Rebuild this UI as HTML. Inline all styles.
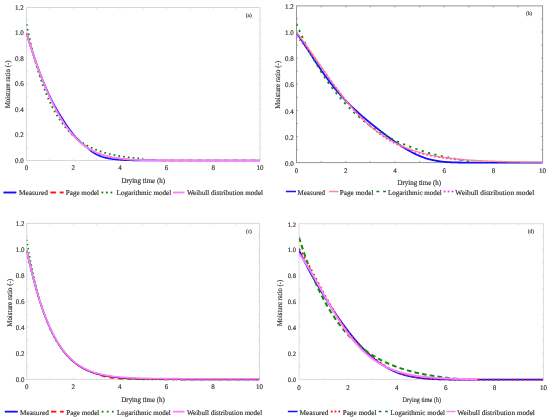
<!DOCTYPE html>
<html><head><meta charset="utf-8"><title>Drying curves</title>
<style>
html,body{margin:0;padding:0;background:#fff;}
body{width:550px;height:419px;overflow:hidden;}
svg{display:block;}
text{font-family:'Liberation Serif', serif;fill:#303030;stroke:#333;stroke-width:0.16px;text-rendering:geometricPrecision;}
.tk{font-size:7.0px;}
.ti{font-size:7.4px;}
.lg{font-size:7.15px;}
.pl{font-size:5.3px;}
</style></head>
<body>
<svg width="550" height="419" viewBox="0 0 550 419">
<rect width="550" height="419" fill="#fff"/>
<rect x="26.5" y="7.5" width="233.5" height="153" fill="none" stroke="#d9d9d9" stroke-width="1"/>
<path d="M49.85 160.5v-1.6M49.85 7.5v1.6M73.2 160.5v-1.6M73.2 7.5v1.6M96.55 160.5v-1.6M96.55 7.5v1.6M119.9 160.5v-1.6M119.9 7.5v1.6M143.25 160.5v-1.6M143.25 7.5v1.6M166.6 160.5v-1.6M166.6 7.5v1.6M189.95 160.5v-1.6M189.95 7.5v1.6M213.3 160.5v-1.6M213.3 7.5v1.6M236.65 160.5v-1.6M236.65 7.5v1.6M26.5 147.75h1.6M260 147.75h-1.6M26.5 135h1.6M260 135h-1.6M26.5 122.25h1.6M260 122.25h-1.6M26.5 109.5h1.6M260 109.5h-1.6M26.5 96.75h1.6M260 96.75h-1.6M26.5 84h1.6M260 84h-1.6M26.5 71.25h1.6M260 71.25h-1.6M26.5 58.5h1.6M260 58.5h-1.6M26.5 45.75h1.6M260 45.75h-1.6M26.5 33h1.6M260 33h-1.6M26.5 20.25h1.6M260 20.25h-1.6" stroke="#d9d9d9" stroke-width="0.8" fill="none"/>
<clipPath id="clipa"><rect x="26.5" y="-0.5" width="233.5" height="162.5"/></clipPath>
<g clip-path="url(#clipa)" fill="none" stroke-linecap="butt" stroke-linejoin="round">
<polyline points="26.5,33.48 27.28,35.97 28.06,38.45 28.84,40.9 29.61,43.33 30.39,45.73 31.17,48.11 31.95,50.47 32.73,52.8 33.51,55.11 34.28,57.39 35.06,59.64 35.84,61.86 36.62,64.06 37.4,66.22 38.17,68.36 38.95,70.46 39.73,72.54 40.51,74.58 41.29,76.59 42.07,78.57 42.84,80.51 43.62,82.42 44.4,84.29 45.18,86.13 45.96,87.93 46.74,89.7 47.52,91.44 48.29,93.14 49.07,94.8 49.85,96.43 50.63,98.02 51.41,99.59 52.19,101.12 52.96,102.62 53.74,104.09 54.52,105.53 55.3,106.95 56.08,108.34 56.86,109.71 57.63,111.05 58.41,112.37 59.19,113.68 59.97,114.96 60.75,116.23 61.53,117.48 62.3,118.72 63.08,119.94 63.86,121.14 64.64,122.33 65.42,123.51 66.19,124.66 66.97,125.81 67.75,126.93 68.53,128.03 69.31,129.12 70.09,130.19 70.87,131.23 71.64,132.25 72.42,133.25 73.2,134.22 73.98,135.17 74.76,136.09 75.53,136.99 76.31,137.86 77.09,138.7 77.87,139.52 78.65,140.31 79.43,141.07 80.2,141.81 80.98,142.53 81.76,143.21 82.54,143.88 83.32,144.52 84.1,145.14 84.88,145.73 85.65,146.31 86.43,146.86 87.21,147.4 87.99,148.2 88.77,148.96 89.55,149.67 90.32,150.34 91.1,150.98 91.88,151.57 92.66,152.13 93.44,152.65 94.22,153.15 94.99,153.61 95.77,154.05 96.55,154.46 97.33,154.85 98.11,155.21 98.89,155.55 99.66,155.87 100.44,156.17 101.22,156.45 102,156.72 102.78,156.96 103.56,157.2 104.33,157.42 105.11,157.62 105.89,157.81 106.67,157.99 107.45,158.16 108.23,158.32 109,158.47 109.78,158.61 110.56,158.73 111.34,158.86 112.12,158.97 112.89,159.07 113.67,159.17 114.45,159.27 115.23,159.35 116.01,159.43 116.79,159.51 117.56,159.58 118.34,159.64 119.12,159.7 119.9,159.76 120.68,159.81 121.46,159.86 122.23,159.91 123.01,159.95 123.79,159.99 124.57,160.03 125.35,160.06 126.13,160.1 126.91,160.13 127.68,160.15 128.46,160.18 129.24,160.2 130.02,160.23 130.8,160.25 131.57,160.27 132.35,160.28 133.13,160.3 133.91,160.32 134.69,160.33 135.47,160.34 136.25,160.35 137.02,160.37 137.8,160.38 138.58,160.39 139.36,160.39 140.14,160.4 140.92,160.41 141.69,160.42 142.47,160.42 143.25,160.43 144.03,160.44 144.81,160.44 145.58,160.45 146.36,160.45 147.14,160.45 147.92,160.46 148.7,160.46 149.48,160.46 150.25,160.47 151.03,160.47 151.81,160.47 152.59,160.47 153.37,160.48 154.15,160.48 154.93,160.48 155.7,160.48 156.48,160.48 157.26,160.49 158.04,160.49 158.82,160.49 159.59,160.49 160.37,160.49 161.15,160.49 161.93,160.49 162.71,160.49 163.49,160.49 164.27,160.49 165.04,160.49 165.82,160.49 166.6,160.5 167.38,160.5 168.16,160.5 168.94,160.5 169.71,160.5 170.49,160.5 171.27,160.5 172.05,160.5 172.83,160.5 173.61,160.5 174.38,160.5 175.16,160.5 175.94,160.5 176.72,160.5 177.5,160.5 178.28,160.5 179.05,160.5 179.83,160.5 180.61,160.5 181.39,160.5 182.17,160.5 182.95,160.5 183.72,160.5 184.5,160.5 185.28,160.5 186.06,160.5 186.84,160.5 187.62,160.5 188.39,160.5 189.17,160.5 189.95,160.5 190.73,160.5 191.51,160.5 192.28,160.5 193.06,160.5 193.84,160.5 194.62,160.5 195.4,160.5 196.18,160.5 196.96,160.5 197.73,160.5 198.51,160.5 199.29,160.5 200.07,160.5 200.85,160.5 201.62,160.5 202.4,160.5 203.18,160.5 203.96,160.5 204.74,160.5 205.52,160.5 206.3,160.5 207.07,160.5 207.85,160.5 208.63,160.5 209.41,160.5 210.19,160.5 210.97,160.5 211.74,160.5 212.52,160.5 213.3,160.5 214.08,160.5 214.86,160.5 215.63,160.5 216.41,160.5 217.19,160.5 217.97,160.5 218.75,160.5 219.53,160.5 220.31,160.5 221.08,160.5 221.86,160.5 222.64,160.5 223.42,160.5 224.2,160.5 224.98,160.5 225.75,160.5 226.53,160.5 227.31,160.5 228.09,160.5 228.87,160.5 229.64,160.5 230.42,160.5 231.2,160.5 231.98,160.5 232.76,160.5 233.54,160.5 234.32,160.5 235.09,160.5 235.87,160.5 236.65,160.5 237.43,160.5 238.21,160.5 238.99,160.5 239.76,160.5 240.54,160.5 241.32,160.5 242.1,160.5 242.88,160.5 243.66,160.5 244.43,160.5 245.21,160.5 245.99,160.5 246.77,160.5 247.55,160.5 248.33,160.5 249.1,160.5 249.88,160.5 250.66,160.5 251.44,160.5 252.22,160.5 253,160.5 253.77,160.5 254.55,160.5 255.33,160.5 256.11,160.5 256.89,160.5 257.67,160.5 258.44,160.5 259.22,160.5 260,160.5" stroke="#1010ff" stroke-width="1.7"/>
<polyline points="26.5,33.48 27.28,35.98 28.06,38.45 28.84,40.9 29.61,43.33 30.39,45.74 31.17,48.13 31.95,50.49 32.73,52.82 33.51,55.13 34.28,57.42 35.06,59.68 35.84,61.91 36.62,64.11 37.4,66.29 38.17,68.44 38.95,70.57 39.73,72.66 40.51,74.73 41.29,76.77 42.07,78.78 42.84,80.76 43.62,82.71 44.4,84.63 45.18,86.52 45.96,88.38 46.74,90.22 47.52,92.02 48.29,93.79 49.07,95.53 49.85,97.24 50.63,98.93 51.41,100.58 52.19,102.2 52.96,103.79 53.74,105.36 54.52,106.89 55.3,108.39 56.08,109.86 56.86,111.31 57.63,112.72 58.41,114.11 59.19,115.47 59.97,116.79 60.75,118.09 61.53,119.36 62.3,120.61 63.08,121.82 63.86,123.01 64.64,124.17 65.42,125.3 66.19,126.41 66.97,127.49 67.75,128.55 68.53,129.58 69.31,130.58 70.09,131.56 70.87,132.51 71.64,133.44 72.42,134.34 73.2,135.23 73.98,136.08 74.76,136.92 75.53,137.73 76.31,138.52 77.09,139.29 77.87,140.04 78.65,140.76 79.43,141.47 80.2,142.15 80.98,142.82 81.76,143.46 82.54,144.09 83.32,144.7 84.1,145.29 84.88,145.86 85.65,146.41 86.43,146.95 87.21,147.46 87.99,147.97 88.77,148.45 89.55,148.92 90.32,149.38 91.1,149.82 91.88,150.25 92.66,150.66 93.44,151.05 94.22,151.44 94.99,151.81 95.77,152.17 96.55,152.51 97.33,152.85 98.11,153.17 98.89,153.48 99.66,153.77 100.44,154.06 101.22,154.34 102,154.61 102.78,154.86 103.56,155.11 104.33,155.35 105.11,155.58 105.89,155.8 106.67,156.01 107.45,156.21 108.23,156.41 109,156.59 109.78,156.77 110.56,156.95 111.34,157.11 112.12,157.27 112.89,157.42 113.67,157.57 114.45,157.71 115.23,157.84 116.01,157.97 116.79,158.09 117.56,158.21 118.34,158.32 119.12,158.43 119.9,158.53 120.68,158.63 121.46,158.72 122.23,158.81 123.01,158.9 123.79,158.98 124.57,159.06 125.35,159.13 126.13,159.2 126.91,159.27 127.68,159.33 128.46,159.4 129.24,159.45 130.02,159.51 130.8,159.56 131.57,159.61 132.35,159.66 133.13,159.71 133.91,159.75 134.69,159.79 135.47,159.83 136.25,159.87 137.02,159.9 137.8,159.94 138.58,159.97 139.36,160 140.14,160.03 140.92,160.05 141.69,160.08 142.47,160.1 143.25,160.13 144.03,160.15 144.81,160.17 145.58,160.19 146.36,160.21 147.14,160.22 147.92,160.24 148.7,160.26 149.48,160.27 150.25,160.29 151.03,160.3 151.81,160.31 152.59,160.32 153.37,160.33 154.15,160.34 154.93,160.35 155.7,160.36 156.48,160.37 157.26,160.38 158.04,160.39 158.82,160.39 159.59,160.4 160.37,160.41 161.15,160.41 161.93,160.42 162.71,160.42 163.49,160.43 164.27,160.43 165.04,160.44 165.82,160.44 166.6,160.45 167.38,160.45 168.16,160.45 168.94,160.46 169.71,160.46 170.49,160.46 171.27,160.46 172.05,160.47 172.83,160.47 173.61,160.47 174.38,160.47 175.16,160.48 175.94,160.48 176.72,160.48 177.5,160.48 178.28,160.48 179.05,160.48 179.83,160.48 180.61,160.49 181.39,160.49 182.17,160.49 182.95,160.49 183.72,160.49 184.5,160.49 185.28,160.49 186.06,160.49 186.84,160.49 187.62,160.49 188.39,160.49 189.17,160.49 189.95,160.49 190.73,160.49 191.51,160.5 192.28,160.5 193.06,160.5 193.84,160.5 194.62,160.5 195.4,160.5 196.18,160.5 196.96,160.5 197.73,160.5 198.51,160.5 199.29,160.5 200.07,160.5 200.85,160.5 201.62,160.5 202.4,160.5 203.18,160.5 203.96,160.5 204.74,160.5 205.52,160.5 206.3,160.5 207.07,160.5 207.85,160.5 208.63,160.5 209.41,160.5 210.19,160.5 210.97,160.5 211.74,160.5 212.52,160.5 213.3,160.5 214.08,160.5 214.86,160.5 215.63,160.5 216.41,160.5 217.19,160.5 217.97,160.5 218.75,160.5 219.53,160.5 220.31,160.5 221.08,160.5 221.86,160.5 222.64,160.5 223.42,160.5 224.2,160.5 224.98,160.5 225.75,160.5 226.53,160.5 227.31,160.5 228.09,160.5 228.87,160.5 229.64,160.5 230.42,160.5 231.2,160.5 231.98,160.5 232.76,160.5 233.54,160.5 234.32,160.5 235.09,160.5 235.87,160.5 236.65,160.5 237.43,160.5 238.21,160.5 238.99,160.5 239.76,160.5 240.54,160.5 241.32,160.5 242.1,160.5 242.88,160.5 243.66,160.5 244.43,160.5 245.21,160.5 245.99,160.5 246.77,160.5 247.55,160.5 248.33,160.5 249.1,160.5 249.88,160.5 250.66,160.5 251.44,160.5 252.22,160.5 253,160.5 253.77,160.5 254.55,160.5 255.33,160.5 256.11,160.5 256.89,160.5 257.67,160.5 258.44,160.5 259.22,160.5 260,160.5" stroke="#ff1010" stroke-width="1.5" stroke-dasharray="5 4"/>
<polyline points="26.5,24.17 27.28,27.96 28.06,31.65 28.84,35.24 29.61,38.72 30.39,42.11 31.17,45.41 31.95,48.61 32.73,51.72 33.51,54.75 34.28,57.69 35.06,60.56 35.84,63.34 36.62,66.04 37.4,68.67 38.17,71.23 38.95,73.72 39.73,76.13 40.51,78.48 41.29,80.77 42.07,82.99 42.84,85.15 43.62,87.24 44.4,89.29 45.18,91.27 45.96,93.2 46.74,95.07 47.52,96.9 48.29,98.67 49.07,100.39 49.85,102.07 50.63,103.7 51.41,105.28 52.19,106.82 52.96,108.32 53.74,109.77 54.52,111.19 55.3,112.56 56.08,113.9 56.86,115.2 57.63,116.46 58.41,117.69 59.19,118.89 59.97,120.05 60.75,121.18 61.53,122.28 62.3,123.34 63.08,124.38 63.86,125.39 64.64,126.37 65.42,127.32 66.19,128.25 66.97,129.15 67.75,130.03 68.53,130.88 69.31,131.71 70.09,132.52 70.87,133.3 71.64,134.06 72.42,134.8 73.2,135.52 73.98,136.22 74.76,136.9 75.53,137.56 76.31,138.2 77.09,138.83 77.87,139.43 78.65,140.03 79.43,140.6 80.2,141.16 80.98,141.7 81.76,142.23 82.54,142.74 83.32,143.24 84.1,143.73 84.88,144.2 85.65,144.66 86.43,145.1 87.21,145.53 87.99,145.96 88.77,146.37 89.55,146.76 90.32,147.15 91.1,147.53 91.88,147.89 92.66,148.25 93.44,148.59 94.22,148.93 94.99,149.26 95.77,149.58 96.55,149.88 97.33,150.18 98.11,150.48 98.89,150.76 99.66,151.04 100.44,151.3 101.22,151.57 102,151.82 102.78,152.07 103.56,152.31 104.33,152.54 105.11,152.77 105.89,152.99 106.67,153.2 107.45,153.41 108.23,153.61 109,153.81 109.78,154 110.56,154.19 111.34,154.37 112.12,154.54 112.89,154.71 113.67,154.88 114.45,155.04 115.23,155.2 116.01,155.35 116.79,155.5 117.56,155.64 118.34,155.78 119.12,155.92 119.9,156.05 120.68,156.18 121.46,156.31 122.23,156.43 123.01,156.55 123.79,156.66 124.57,156.78 125.35,156.88 126.13,156.99 126.91,157.09 127.68,157.19 128.46,157.29 129.24,157.38 130.02,157.48 130.8,157.57 131.57,157.65 132.35,157.74 133.13,157.82 133.91,157.9 134.69,157.98 135.47,158.05 136.25,158.13 137.02,158.2 137.8,158.27 138.58,158.33 139.36,158.4 140.14,158.46 140.92,158.53 141.69,158.59 142.47,158.65 143.25,158.7" stroke="#0a8a0a" stroke-width="1.8" stroke-dasharray="1.7 3.1"/>
<polyline points="26.5,33.48 27.28,35.98 28.06,38.45 28.84,40.9 29.61,43.33 30.39,45.74 31.17,48.13 31.95,50.49 32.73,52.82 33.51,55.13 34.28,57.42 35.06,59.68 35.84,61.91 36.62,64.11 37.4,66.29 38.17,68.44 38.95,70.57 39.73,72.66 40.51,74.73 41.29,76.77 42.07,78.78 42.84,80.76 43.62,82.71 44.4,84.63 45.18,86.52 45.96,88.38 46.74,90.22 47.52,92.02 48.29,93.79 49.07,95.53 49.85,97.24 50.63,98.93 51.41,100.58 52.19,102.2 52.96,103.79 53.74,105.36 54.52,106.89 55.3,108.39 56.08,109.86 56.86,111.31 57.63,112.72 58.41,114.11 59.19,115.47 59.97,116.79 60.75,118.09 61.53,119.36 62.3,120.61 63.08,121.82 63.86,123.01 64.64,124.17 65.42,125.3 66.19,126.41 66.97,127.49 67.75,128.55 68.53,129.58 69.31,130.58 70.09,131.56 70.87,132.51 71.64,133.44 72.42,134.34 73.2,135.23 73.98,136.08 74.76,136.92 75.53,137.73 76.31,138.52 77.09,139.29 77.87,140.04 78.65,140.76 79.43,141.47 80.2,142.15 80.98,142.82 81.76,143.46 82.54,144.09 83.32,144.7 84.1,145.29 84.88,145.86 85.65,146.41 86.43,146.95 87.21,147.46 87.99,147.97 88.77,148.45 89.55,148.92 90.32,149.38 91.1,149.82 91.88,150.25 92.66,150.66 93.44,151.05 94.22,151.44 94.99,151.81 95.77,152.17 96.55,152.51 97.33,152.85 98.11,153.17 98.89,153.48 99.66,153.77 100.44,154.06 101.22,154.34 102,154.61 102.78,154.86 103.56,155.11 104.33,155.35 105.11,155.58 105.89,155.8 106.67,156.01 107.45,156.21 108.23,156.41 109,156.59 109.78,156.77 110.56,156.95 111.34,157.11 112.12,157.27 112.89,157.42 113.67,157.57 114.45,157.71 115.23,157.84 116.01,157.97 116.79,158.09 117.56,158.21 118.34,158.32 119.12,158.43 119.9,158.53 120.68,158.63 121.46,158.72 122.23,158.81 123.01,158.9 123.79,158.98 124.57,159.06 125.35,159.13 126.13,159.2 126.91,159.27 127.68,159.33 128.46,159.4 129.24,159.45 130.02,159.51 130.8,159.56 131.57,159.61 132.35,159.66 133.13,159.71 133.91,159.75 134.69,159.79 135.47,159.83 136.25,159.87 137.02,159.9 137.8,159.94 138.58,159.97 139.36,160 140.14,160.03 140.92,160.05 141.69,160.08 142.47,160.1 143.25,160.13 144.03,160.15 144.81,160.17 145.58,160.19 146.36,160.21 147.14,160.22 147.92,160.24 148.7,160.26 149.48,160.27 150.25,160.29 151.03,160.3 151.81,160.31 152.59,160.32 153.37,160.33 154.15,160.34 154.93,160.35 155.7,160.36 156.48,160.37 157.26,160.38 158.04,160.39 158.82,160.39 159.59,160.4 160.37,160.41 161.15,160.41 161.93,160.42 162.71,160.42 163.49,160.43 164.27,160.43 165.04,160.44 165.82,160.44 166.6,160.45 167.38,160.45 168.16,160.45 168.94,160.46 169.71,160.46 170.49,160.46 171.27,160.46 172.05,160.47 172.83,160.47 173.61,160.47 174.38,160.47 175.16,160.48 175.94,160.48 176.72,160.48 177.5,160.48 178.28,160.48 179.05,160.48 179.83,160.48 180.61,160.49 181.39,160.49 182.17,160.49 182.95,160.49 183.72,160.49 184.5,160.49 185.28,160.49 186.06,160.49 186.84,160.49 187.62,160.49 188.39,160.49 189.17,160.49 189.95,160.49 190.73,160.49 191.51,160.5 192.28,160.5 193.06,160.5 193.84,160.5 194.62,160.5 195.4,160.5 196.18,160.5 196.96,160.5 197.73,160.5 198.51,160.5 199.29,160.5 200.07,160.5 200.85,160.5 201.62,160.5 202.4,160.5 203.18,160.5 203.96,160.5 204.74,160.5 205.52,160.5 206.3,160.5 207.07,160.5 207.85,160.5 208.63,160.5 209.41,160.5 210.19,160.5 210.97,160.5 211.74,160.5 212.52,160.5 213.3,160.5 214.08,160.5 214.86,160.5 215.63,160.5 216.41,160.5 217.19,160.5 217.97,160.5 218.75,160.5 219.53,160.5 220.31,160.5 221.08,160.5 221.86,160.5 222.64,160.5 223.42,160.5 224.2,160.5 224.98,160.5 225.75,160.5 226.53,160.5 227.31,160.5 228.09,160.5 228.87,160.5 229.64,160.5 230.42,160.5 231.2,160.5 231.98,160.5 232.76,160.5 233.54,160.5 234.32,160.5 235.09,160.5 235.87,160.5 236.65,160.5 237.43,160.5 238.21,160.5 238.99,160.5 239.76,160.5 240.54,160.5 241.32,160.5 242.1,160.5 242.88,160.5 243.66,160.5 244.43,160.5 245.21,160.5 245.99,160.5 246.77,160.5 247.55,160.5 248.33,160.5 249.1,160.5 249.88,160.5 250.66,160.5 251.44,160.5 252.22,160.5 253,160.5 253.77,160.5 254.55,160.5 255.33,160.5 256.11,160.5 256.89,160.5 257.67,160.5 258.44,160.5 259.22,160.5 260,160.5" stroke="#ff80ff" stroke-width="1.75"/>
</g>
<text x="23.8" y="162.8" text-anchor="end" class="tk">0.0</text>
<text x="23.8" y="137.3" text-anchor="end" class="tk">0.2</text>
<text x="23.8" y="111.8" text-anchor="end" class="tk">0.4</text>
<text x="23.8" y="86.3" text-anchor="end" class="tk">0.6</text>
<text x="23.8" y="60.8" text-anchor="end" class="tk">0.8</text>
<text x="23.8" y="35.3" text-anchor="end" class="tk">1.0</text>
<text x="23.8" y="9.8" text-anchor="end" class="tk">1.2</text>
<text x="26.5" y="170.1" text-anchor="middle" class="tk">0</text>
<text x="73.2" y="170.1" text-anchor="middle" class="tk">2</text>
<text x="119.9" y="170.1" text-anchor="middle" class="tk">4</text>
<text x="166.6" y="170.1" text-anchor="middle" class="tk">6</text>
<text x="213.3" y="170.1" text-anchor="middle" class="tk">8</text>
<text x="260" y="170.1" text-anchor="middle" class="tk">10</text>
<text transform="translate(7.8 84.4) rotate(-90)" text-anchor="middle" class="ti" y="2.3" textLength="47.8" lengthAdjust="spacingAndGlyphs">Moisture ratio (-)</text>
<text x="143.2" y="182.9" text-anchor="middle" class="ti" style="font-size:7.4px" textLength="43.6" lengthAdjust="spacingAndGlyphs">Drying time (h)</text>
<text x="248.8" y="16.7" text-anchor="middle" class="pl">(a)</text>
<line x1="3.4" y1="192.5" x2="16.4" y2="192.5" stroke="#1010ff" stroke-width="1.9"/>
<text x="18.9" y="195.2" class="lg" textLength="29" lengthAdjust="spacingAndGlyphs">Measured</text>
<line x1="50.4" y1="192.5" x2="55.94" y2="192.5" stroke="#ff1010" stroke-width="1.9"/>
<line x1="59.72" y1="192.5" x2="63.6" y2="192.5" stroke="#ff1010" stroke-width="1.9"/>
<text x="65.8" y="195.2" class="lg" textLength="33.3" lengthAdjust="spacingAndGlyphs">Page model</text>
<rect x="101.5" y="191.6" width="1.8" height="1.8" fill="#0a8a0a"/>
<rect x="106" y="191.6" width="1.8" height="1.8" fill="#0a8a0a"/>
<rect x="110.5" y="191.6" width="1.8" height="1.8" fill="#0a8a0a"/>
<text x="116.6" y="195.2" class="lg" textLength="54.6" lengthAdjust="spacingAndGlyphs">Logarithmic model</text>
<line x1="173" y1="192.5" x2="184.5" y2="192.5" stroke="#ff80ff" stroke-width="1.9"/>
<text x="187" y="195.2" class="lg" textLength="76" lengthAdjust="spacingAndGlyphs">Weibull distribution model</text>
<rect x="296.5" y="5.9" width="246.1" height="156.7" fill="none" stroke="#959595" stroke-width="1"/>
<path d="M321.11 162.6v-1.6M321.11 5.9v1.6M345.72 162.6v-1.6M345.72 5.9v1.6M370.33 162.6v-1.6M370.33 5.9v1.6M394.94 162.6v-1.6M394.94 5.9v1.6M419.55 162.6v-1.6M419.55 5.9v1.6M444.16 162.6v-1.6M444.16 5.9v1.6M468.77 162.6v-1.6M468.77 5.9v1.6M493.38 162.6v-1.6M493.38 5.9v1.6M517.99 162.6v-1.6M517.99 5.9v1.6M296.5 149.54h1.6M542.6 149.54h-1.6M296.5 136.48h1.6M542.6 136.48h-1.6M296.5 123.42h1.6M542.6 123.42h-1.6M296.5 110.37h1.6M542.6 110.37h-1.6M296.5 97.31h1.6M542.6 97.31h-1.6M296.5 84.25h1.6M542.6 84.25h-1.6M296.5 71.19h1.6M542.6 71.19h-1.6M296.5 58.13h1.6M542.6 58.13h-1.6M296.5 45.07h1.6M542.6 45.07h-1.6M296.5 32.02h1.6M542.6 32.02h-1.6M296.5 18.96h1.6M542.6 18.96h-1.6" stroke="#959595" stroke-width="0.8" fill="none"/>
<clipPath id="clipb"><rect x="296.5" y="-2.1" width="246.1" height="166.2"/></clipPath>
<g clip-path="url(#clipb)" fill="none" stroke-linecap="butt" stroke-linejoin="round">
<polyline points="296.5,32.9 297.32,34.02 298.14,35.17 298.96,36.33 299.78,37.52 300.6,38.72 301.42,39.93 302.24,41.16 303.06,42.4 303.88,43.64 304.7,44.9 305.52,46.16 306.34,47.43 307.16,48.71 307.98,49.98 308.81,51.26 309.63,52.54 310.45,53.82 311.27,55.09 312.09,56.37 312.91,57.64 313.73,58.9 314.55,60.16 315.37,61.42 316.19,62.66 317.01,63.9 317.83,65.14 318.65,66.36 319.47,67.58 320.29,68.79 321.11,69.98 321.93,71.17 322.75,72.35 323.57,73.51 324.39,74.67 325.21,75.81 326.03,76.94 326.85,78.06 327.67,79.17 328.49,80.27 329.31,81.36 330.13,82.43 330.95,83.49 331.77,84.54 332.59,85.58 333.42,86.6 334.24,87.62 335.06,88.62 335.88,89.61 336.7,90.59 337.52,91.56 338.34,92.51 339.16,93.46 339.98,94.39 340.8,95.31 341.62,96.22 342.44,97.12 343.26,98.01 344.08,98.89 344.9,99.76 345.72,100.62 346.54,101.48 347.36,102.32 348.18,103.15 349,103.97 349.82,104.79 350.64,105.59 351.46,106.39 352.28,107.18 353.1,107.96 353.92,108.74 354.74,109.51 355.56,110.27 356.38,111.02 357.2,111.77 358.02,112.51 358.85,113.24 359.67,113.97 360.49,114.69 361.31,115.41 362.13,116.12 362.95,116.83 363.77,117.53 364.59,118.23 365.41,118.92 366.23,119.61 367.05,120.29 367.87,120.97 368.69,121.65 369.51,122.32 370.33,122.99 371.15,123.66 371.97,124.32 372.79,124.98 373.61,125.63 374.43,126.29 375.25,126.94 376.07,127.58 376.89,128.23 377.71,128.87 378.53,129.51 379.35,130.15 380.17,130.78 380.99,131.41 381.81,132.04 382.63,132.66 383.46,133.29 384.28,133.91 385.1,134.53 385.92,135.14 386.74,135.75 387.56,136.36 388.38,136.97 389.2,137.57 390.02,138.17 390.84,138.77 391.66,139.36 392.48,139.95 393.3,140.53 394.12,141.11 394.94,141.69 395.76,142.26 396.58,142.83 397.4,143.39 398.22,143.95 399.04,144.5 399.86,145.05 400.68,145.59 401.5,146.13 402.32,146.65 403.14,147.18 403.96,147.69 404.78,148.2 405.6,148.7 406.42,149.2 407.25,149.68 408.07,150.16 408.89,150.63 409.71,151.09 410.53,151.55 411.35,151.99 412.17,152.43 412.99,152.85 413.81,153.27 414.63,153.68 415.45,154.07 416.27,154.46 417.09,154.84 417.91,155.21 418.73,155.57 419.55,155.91 420.37,156.25 421.19,156.58 422.01,156.89 422.83,157.2 423.65,157.49 424.47,157.78 425.29,158.05 426.11,158.32 426.93,158.57 427.75,158.81 428.57,159.05 429.39,159.27 430.21,159.48 431.03,159.69 431.86,159.88 432.68,160.07 433.5,160.24 434.32,160.41 435.14,160.57 435.96,160.71 436.78,160.86 437.6,160.99 438.42,161.11 439.24,161.23 440.06,161.34 440.88,161.44 441.7,161.54 442.52,161.63 443.34,161.72 444.16,161.79 444.98,161.87 445.8,161.93 446.62,162 447.44,162.05 448.26,162.11 449.08,162.15 449.9,162.2 450.72,162.24 451.54,162.28 452.36,162.31 453.18,162.34 454,162.37 454.82,162.4 455.64,162.42 456.47,162.44 457.29,162.46 458.11,162.48 458.93,162.49 459.75,162.5 460.57,162.52 461.39,162.53 462.21,162.54 463.03,162.54 463.85,162.55 464.67,162.56 465.49,162.56 466.31,162.57 467.13,162.57 467.95,162.58 468.77,162.58 469.59,162.58 470.41,162.59 471.23,162.59 472.05,162.59 472.87,162.59 473.69,162.59 474.51,162.59 475.33,162.6 476.15,162.6 476.97,162.6 477.79,162.6 478.61,162.6 479.43,162.6 480.25,162.6 481.08,162.6 481.9,162.6 482.72,162.6 483.54,162.6 484.36,162.6 485.18,162.6 486,162.6 486.82,162.6 487.64,162.6 488.46,162.6 489.28,162.6 490.1,162.6 490.92,162.6 491.74,162.6 492.56,162.6 493.38,162.6 494.2,162.6 495.02,162.6 495.84,162.6 496.66,162.6 497.48,162.6 498.3,162.6 499.12,162.6 499.94,162.6 500.76,162.6 501.58,162.6 502.4,162.6 503.22,162.6 504.04,162.6 504.86,162.6 505.69,162.6 506.51,162.6 507.33,162.6 508.15,162.6 508.97,162.6 509.79,162.6 510.61,162.6 511.43,162.6 512.25,162.6 513.07,162.6 513.89,162.6 514.71,162.6 515.53,162.6 516.35,162.6 517.17,162.6 517.99,162.6 518.81,162.6 519.63,162.6 520.45,162.6 521.27,162.6 522.09,162.6 522.91,162.6 523.73,162.6 524.55,162.6 525.37,162.6 526.19,162.6 527.01,162.6 527.83,162.6 528.65,162.6 529.47,162.6 530.3,162.6 531.12,162.6 531.94,162.6 532.76,162.6 533.58,162.6 534.4,162.6 535.22,162.6 536.04,162.6 536.86,162.6 537.68,162.6 538.5,162.6 539.32,162.6 540.14,162.6 540.96,162.6 541.78,162.6 542.6,162.6" stroke="#1010ff" stroke-width="1.8"/>
<polyline points="296.5,23.85 297.32,25.77 298.14,27.68 298.96,29.55 299.78,31.41 300.6,33.23 301.42,35.04 302.24,36.82 303.06,38.57 303.88,40.31 304.7,42.02 305.52,43.7 306.34,45.37 307.16,47.01 307.98,48.64 308.81,50.24 309.63,51.82 310.45,53.37 311.27,54.91 312.09,56.43 312.91,57.93 313.73,59.41 314.55,60.87 315.37,62.3 316.19,63.72 317.01,65.13 317.83,66.51 318.65,67.87 319.47,69.22 320.29,70.55 321.11,71.86 321.93,73.16 322.75,74.43 323.57,75.69 324.39,76.94 325.21,78.17 326.03,79.38 326.85,80.57 327.67,81.75 328.49,82.92 329.31,84.06 330.13,85.2 330.95,86.32 331.77,87.42 332.59,88.51 333.42,89.58 334.24,90.65 335.06,91.69 335.88,92.72 336.7,93.74 337.52,94.75 338.34,95.74 339.16,96.72 339.98,97.69 340.8,98.64 341.62,99.58 342.44,100.51 343.26,101.43 344.08,102.33 344.9,103.23 345.72,104.11 346.54,104.98 347.36,105.83 348.18,106.68 349,107.52 349.82,108.34 350.64,109.15 351.46,109.96 352.28,110.75 353.1,111.53 353.92,112.3 354.74,113.06 355.56,113.81 356.38,114.56 357.2,115.29 358.02,116.01 358.85,116.72 359.67,117.42 360.49,118.12 361.31,118.8 362.13,119.48 362.95,120.14 363.77,120.8 364.59,121.45 365.41,122.09 366.23,122.72 367.05,123.35 367.87,123.96 368.69,124.57 369.51,125.17 370.33,125.76 371.15,126.34 371.97,126.92 372.79,127.49 373.61,128.05 374.43,128.6 375.25,129.15 376.07,129.69 376.89,130.22 377.71,130.75 378.53,131.26 379.35,131.78 380.17,132.28 380.99,132.78 381.81,133.27 382.63,133.75 383.46,134.23 384.28,134.7 385.1,135.17 385.92,135.63 386.74,136.08 387.56,136.53 388.38,136.97 389.2,137.41 390.02,137.84 390.84,138.26 391.66,138.68 392.48,139.1 393.3,139.5 394.12,139.91 394.94,140.3 395.76,140.69 396.58,141.08 397.4,141.46 398.22,141.84 399.04,142.21 399.86,142.58 400.68,142.94 401.5,143.3 402.32,143.65 403.14,144 403.96,144.34 404.78,144.68 405.6,145.01 406.42,145.34 407.25,145.67 408.07,145.99 408.89,146.31 409.71,146.62 410.53,146.93 411.35,147.23 412.17,147.53 412.99,147.83 413.81,148.12 414.63,148.41 415.45,148.7 416.27,148.98 417.09,149.26 417.91,149.53 418.73,149.8 419.55,150.07 420.37,150.33 421.19,150.59 422.01,150.85 422.83,151.1 423.65,151.35 424.47,151.6 425.29,151.84 426.11,152.08 426.93,152.32 427.75,152.55 428.57,152.78 429.39,153.01 430.21,153.23 431.03,153.45 431.86,153.67 432.68,153.89 433.5,154.1 434.32,154.31 435.14,154.52 435.96,154.72 436.78,154.92 437.6,155.12 438.42,155.32 439.24,155.51 440.06,155.71 440.88,155.89 441.7,156.08 442.52,156.27 443.34,156.45 444.16,156.63 444.98,156.8 445.8,156.98 446.62,157.15 447.44,157.32 448.26,157.49 449.08,157.65 449.9,157.82 450.72,157.98 451.54,158.14 452.36,158.29 453.18,158.45 454,158.6 454.82,158.75 455.64,158.9 456.47,159.05 457.29,159.19 458.11,159.33 458.93,159.48 459.75,159.61 460.57,159.75 461.39,159.89 462.21,160.02 463.03,160.15 463.85,160.28 464.67,160.41 465.49,160.54 466.31,160.66 467.13,160.79 467.95,160.91 468.77,161.03 469.59,161.15 470.41,161.27 471.23,161.38 472.05,161.5 472.87,161.61 473.69,161.72" stroke="#0a8a0a" stroke-width="1.8" stroke-dasharray="2.2 4.4"/>
<polyline points="296.5,32.24 297.32,33.27 298.14,34.31 298.96,35.37 299.78,36.44 300.6,37.52 301.42,38.61 302.24,39.71 303.06,40.82 303.88,41.94 304.7,43.07 305.52,44.21 306.34,45.35 307.16,46.51 307.98,47.66 308.81,48.83 309.63,50 310.45,51.17 311.27,52.35 312.09,53.53 312.91,54.72 313.73,55.91 314.55,57.1 315.37,58.3 316.19,59.49 317.01,60.69 317.83,61.88 318.65,63.08 319.47,64.28 320.29,65.48 321.11,66.67 321.93,67.86 322.75,69.06 323.57,70.25 324.39,71.43 325.21,72.62 326.03,73.8 326.85,74.97 327.67,76.15 328.49,77.32 329.31,78.48 330.13,79.64 330.95,80.79 331.77,81.94 332.59,83.08 333.42,84.22 334.24,85.34 335.06,86.47 335.88,87.58 336.7,88.69 337.52,89.79 338.34,90.88 339.16,91.97 339.98,93.04 340.8,94.11 341.62,95.17 342.44,96.22 343.26,97.27 344.08,98.3 344.9,99.33 345.72,100.34 346.54,101.35 347.36,102.34 348.18,103.33 349,104.31 349.82,105.27 350.64,106.23 351.46,107.18 352.28,108.11 353.1,109.04 353.92,109.96 354.74,110.86 355.56,111.76 356.38,112.64 357.2,113.52 358.02,114.38 358.85,115.24 359.67,116.08 360.49,116.91 361.31,117.73 362.13,118.55 362.95,119.35 363.77,120.14 364.59,120.92 365.41,121.68 366.23,122.44 367.05,123.19 367.87,123.93 368.69,124.65 369.51,125.37 370.33,126.08 371.15,126.77 371.97,127.46 372.79,128.13 373.61,128.8 374.43,129.45 375.25,130.1 376.07,130.73 376.89,131.36 377.71,131.97 378.53,132.58 379.35,133.17 380.17,133.76 380.99,134.34 381.81,134.9 382.63,135.46 383.46,136.01 384.28,136.55 385.1,137.08 385.92,137.6 386.74,138.11 387.56,138.61 388.38,139.11 389.2,139.59 390.02,140.07 390.84,140.54 391.66,141 392.48,141.45 393.3,141.89 394.12,142.33 394.94,142.75 395.76,143.17 396.58,143.58 397.4,143.99 398.22,144.39 399.04,144.77 399.86,145.16 400.68,145.53 401.5,145.9 402.32,146.26 403.14,146.61 403.96,146.96 404.78,147.3 405.6,147.63 406.42,147.95 407.25,148.27 408.07,148.59 408.89,148.89 409.71,149.2 410.53,149.49 411.35,149.78 412.17,150.06 412.99,150.34 413.81,150.61 414.63,150.88 415.45,151.14 416.27,151.39 417.09,151.64 417.91,151.89 418.73,152.13 419.55,152.36 420.37,152.59 421.19,152.82 422.01,153.04 422.83,153.25 423.65,153.46 424.47,153.67 425.29,153.87 426.11,154.07 426.93,154.26 427.75,154.45 428.57,154.63 429.39,154.81 430.21,154.99 431.03,155.16 431.86,155.33 432.68,155.5 433.5,155.66 434.32,155.82 435.14,155.97 435.96,156.12 436.78,156.27 437.6,156.42 438.42,156.56 439.24,156.7 440.06,156.83 440.88,156.96 441.7,157.09 442.52,157.22 443.34,157.34 444.16,157.46 444.98,157.58 445.8,157.69 446.62,157.81 447.44,157.92 448.26,158.02 449.08,158.13 449.9,158.23 450.72,158.33 451.54,158.43 452.36,158.52 453.18,158.62 454,158.71 454.82,158.8 455.64,158.88 456.47,158.97 457.29,159.05 458.11,159.13 458.93,159.21 459.75,159.29 460.57,159.36 461.39,159.44 462.21,159.51 463.03,159.58 463.85,159.65 464.67,159.72 465.49,159.78 466.31,159.85 467.13,159.91 467.95,159.97 468.77,160.03 469.59,160.09 470.41,160.14 471.23,160.2 472.05,160.25 472.87,160.31 473.69,160.36 474.51,160.41 475.33,160.46 476.15,160.5 476.97,160.55 477.79,160.6 478.61,160.64 479.43,160.68 480.25,160.73 481.08,160.77 481.9,160.81 482.72,160.85 483.54,160.89 484.36,160.92 485.18,160.96 486,161 486.82,161.03 487.64,161.07 488.46,161.1 489.28,161.13 490.1,161.16 490.92,161.2 491.74,161.23 492.56,161.26 493.38,161.28 494.2,161.31 495.02,161.34 495.84,161.37 496.66,161.39 497.48,161.42 498.3,161.44 499.12,161.47 499.94,161.49 500.76,161.52 501.58,161.54 502.4,161.56 503.22,161.58 504.04,161.6 504.86,161.62 505.69,161.64 506.51,161.66 507.33,161.68 508.15,161.7 508.97,161.72 509.79,161.74 510.61,161.76 511.43,161.77 512.25,161.79 513.07,161.81 513.89,161.82 514.71,161.84 515.53,161.85 516.35,161.87 517.17,161.88 517.99,161.9 518.81,161.91 519.63,161.92 520.45,161.94 521.27,161.95 522.09,161.96 522.91,161.97 523.73,161.99 524.55,162 525.37,162.01 526.19,162.02 527.01,162.03 527.83,162.04 528.65,162.05 529.47,162.06 530.3,162.07 531.12,162.08 531.94,162.09 532.76,162.1 533.58,162.11 534.4,162.12 535.22,162.13 536.04,162.13 536.86,162.14 537.68,162.15 538.5,162.16 539.32,162.17 540.14,162.17 540.96,162.18 541.78,162.19 542.6,162.2" stroke="#ff8c8c" stroke-width="1.4"/>
<polyline points="296.5,36.89 297.32,37.72 298.14,38.56 298.96,39.43 299.78,40.31 300.6,41.21 301.42,42.12 302.24,43.05 303.06,43.99 303.88,44.95 304.7,45.92 305.52,46.9 306.34,47.9 307.16,48.91 307.98,49.93 308.81,50.96 309.63,52 310.45,53.05 311.27,54.1 312.09,55.17 312.91,56.25 313.73,57.33 314.55,58.42 315.37,59.51 316.19,60.61 317.01,61.72 317.83,62.83 318.65,63.95 319.47,65.06 320.29,66.19 321.11,67.31 321.93,68.44 322.75,69.57 323.57,70.7 324.39,71.83 325.21,72.96 326.03,74.09 326.85,75.22 327.67,76.35 328.49,77.47 329.31,78.6 330.13,79.72 330.95,80.84 331.77,81.96 332.59,83.08 333.42,84.19 334.24,85.3 335.06,86.4 335.88,87.5 336.7,88.59 337.52,89.68 338.34,90.76 339.16,91.83 339.98,92.9 340.8,93.97 341.62,95.02 342.44,96.07 343.26,97.12 344.08,98.15 344.9,99.18 345.72,100.2 346.54,101.21 347.36,102.21 348.18,103.21 349,104.19 349.82,105.17 350.64,106.14 351.46,107.09 352.28,108.04 353.1,108.98 353.92,109.91 354.74,110.83 355.56,111.75 356.38,112.65 357.2,113.54 358.02,114.42 358.85,115.29 359.67,116.15 360.49,117 361.31,117.84 362.13,118.67 362.95,119.49 363.77,120.3 364.59,121.1 365.41,121.89 366.23,122.66 367.05,123.43 367.87,124.19 368.69,124.93 369.51,125.67 370.33,126.39 371.15,127.11 371.97,127.81 372.79,128.51 373.61,129.19 374.43,129.86 375.25,130.53 376.07,131.18 376.89,131.82 377.71,132.45 378.53,133.08 379.35,133.69 380.17,134.29 380.99,134.88 381.81,135.46 382.63,136.04 383.46,136.6 384.28,137.15 385.1,137.7 385.92,138.23 386.74,138.76 387.56,139.27 388.38,139.78 389.2,140.28 390.02,140.77 390.84,141.25 391.66,141.72 392.48,142.18 393.3,142.63 394.12,143.08 394.94,143.51 395.76,143.94 396.58,144.36 397.4,144.77 398.22,145.18 399.04,145.57 399.86,145.96 400.68,146.34 401.5,146.72 402.32,147.08 403.14,147.44 403.96,147.79 404.78,148.14 405.6,148.47 406.42,148.8 407.25,149.13 408.07,149.44 408.89,149.75 409.71,150.06 410.53,150.35 411.35,150.64 412.17,150.93 412.99,151.21 413.81,151.48 414.63,151.74 415.45,152.01 416.27,152.26 417.09,152.51 417.91,152.75 418.73,152.99 419.55,153.23 420.37,153.45 421.19,153.68 422.01,153.89 422.83,154.11 423.65,154.32 424.47,154.52 425.29,154.72 426.11,154.91 426.93,155.1 427.75,155.29 428.57,155.47 429.39,155.64 430.21,155.82 431.03,155.99 431.86,156.15 432.68,156.31 433.5,156.47 434.32,156.62 435.14,156.77 435.96,156.92 436.78,157.06 437.6,157.2 438.42,157.34 439.24,157.47 440.06,157.6 440.88,157.72 441.7,157.85 442.52,157.97 443.34,158.09 444.16,158.2 444.98,158.31 445.8,158.42 446.62,158.53 447.44,158.63 448.26,158.73 449.08,158.83 449.9,158.93 450.72,159.02 451.54,159.11 452.36,159.2 453.18,159.29 454,159.37 454.82,159.45 455.64,159.54 456.47,159.61 457.29,159.69 458.11,159.76 458.93,159.84 459.75,159.91 460.57,159.98 461.39,160.04 462.21,160.11 463.03,160.17 463.85,160.24" stroke="#ff30ff" stroke-width="1.5" stroke-dasharray="1.3 2.7"/>
</g>
<text x="293.8" y="165.8" text-anchor="end" class="tk">0.0</text>
<text x="293.8" y="139.68" text-anchor="end" class="tk">0.2</text>
<text x="293.8" y="113.57" text-anchor="end" class="tk">0.4</text>
<text x="293.8" y="87.45" text-anchor="end" class="tk">0.6</text>
<text x="293.8" y="61.33" text-anchor="end" class="tk">0.8</text>
<text x="293.8" y="35.22" text-anchor="end" class="tk">1.0</text>
<text x="293.8" y="9.1" text-anchor="end" class="tk">1.2</text>
<text x="296.5" y="172.5" text-anchor="middle" class="tk">0</text>
<text x="345.72" y="172.5" text-anchor="middle" class="tk">2</text>
<text x="394.94" y="172.5" text-anchor="middle" class="tk">4</text>
<text x="444.16" y="172.5" text-anchor="middle" class="tk">6</text>
<text x="493.38" y="172.5" text-anchor="middle" class="tk">8</text>
<text x="542.6" y="172.5" text-anchor="middle" class="tk">10</text>
<text transform="translate(277.5 84.9) rotate(-90)" text-anchor="middle" class="ti" y="2.3" textLength="47.8" lengthAdjust="spacingAndGlyphs">Moisture ratio (-)</text>
<text x="419.3" y="184.9" text-anchor="middle" class="ti" style="font-size:7.4px" textLength="43.6" lengthAdjust="spacingAndGlyphs">Drying time (h)</text>
<text x="529" y="15.3" text-anchor="middle" class="pl">(b)</text>
<line x1="285.9" y1="191.5" x2="296" y2="191.5" stroke="#1010ff" stroke-width="1.5"/>
<text x="297.5" y="194.8" class="lg" textLength="27.6" lengthAdjust="spacingAndGlyphs">Measured</text>
<line x1="329" y1="191.5" x2="338.2" y2="191.5" stroke="#ff8c8c" stroke-width="1.5"/>
<text x="339.8" y="194.8" class="lg" textLength="33.6" lengthAdjust="spacingAndGlyphs">Page model</text>
<line x1="376.4" y1="191.5" x2="379.28" y2="191.5" stroke="#0a8a0a" stroke-width="1.5"/>
<line x1="383.12" y1="191.5" x2="386" y2="191.5" stroke="#0a8a0a" stroke-width="1.5"/>
<text x="388" y="194.8" class="lg" textLength="53.7" lengthAdjust="spacingAndGlyphs">Logarithmic model</text>
<rect x="443.7" y="190.6" width="1.8" height="1.8" fill="#ff30ff"/>
<rect x="447.65" y="190.6" width="1.8" height="1.8" fill="#ff30ff"/>
<rect x="451.6" y="190.6" width="1.8" height="1.8" fill="#ff30ff"/>
<text x="455.3" y="194.8" class="lg" textLength="79.1" lengthAdjust="spacingAndGlyphs">Weibull distribution model</text>
<rect x="26.7" y="223.4" width="232.8" height="156" fill="none" stroke="#d9d9d9" stroke-width="1"/>
<path d="M49.98 379.4v-1.6M49.98 223.4v1.6M73.26 379.4v-1.6M73.26 223.4v1.6M96.54 379.4v-1.6M96.54 223.4v1.6M119.82 379.4v-1.6M119.82 223.4v1.6M143.1 379.4v-1.6M143.1 223.4v1.6M166.38 379.4v-1.6M166.38 223.4v1.6M189.66 379.4v-1.6M189.66 223.4v1.6M212.94 379.4v-1.6M212.94 223.4v1.6M236.22 379.4v-1.6M236.22 223.4v1.6M26.7 366.4h1.6M259.5 366.4h-1.6M26.7 353.4h1.6M259.5 353.4h-1.6M26.7 340.4h1.6M259.5 340.4h-1.6M26.7 327.4h1.6M259.5 327.4h-1.6M26.7 314.4h1.6M259.5 314.4h-1.6M26.7 301.4h1.6M259.5 301.4h-1.6M26.7 288.4h1.6M259.5 288.4h-1.6M26.7 275.4h1.6M259.5 275.4h-1.6M26.7 262.4h1.6M259.5 262.4h-1.6M26.7 249.4h1.6M259.5 249.4h-1.6M26.7 236.4h1.6M259.5 236.4h-1.6" stroke="#d9d9d9" stroke-width="0.8" fill="none"/>
<clipPath id="clipc"><rect x="26.7" y="215.4" width="232.8" height="165.5"/></clipPath>
<g clip-path="url(#clipc)" fill="none" stroke-linecap="butt" stroke-linejoin="round">
<polyline points="26.7,250.51 27.48,254.07 28.25,257.55 29.03,260.96 29.8,264.3 30.58,267.56 31.36,270.75 32.13,273.87 32.91,276.92 33.68,279.9 34.46,282.81 35.24,285.65 36.01,288.42 36.79,291.13 37.56,293.77 38.34,296.35 39.12,298.87 39.89,301.32 40.67,303.71 41.44,306.03 42.22,308.3 43,310.51 43.77,312.66 44.55,314.76 45.32,316.8 46.1,318.78 46.88,320.72 47.65,322.59 48.43,324.42 49.2,326.2 49.98,327.92 50.76,329.6 51.53,331.23 52.31,332.82 53.08,334.36 53.86,335.85 54.64,337.3 55.41,338.71 56.19,340.08 56.96,341.4 57.74,342.69 58.52,343.94 59.29,345.15 60.07,346.32 60.84,347.46 61.62,348.56 62.4,349.63 63.17,350.66 63.95,351.66 64.72,352.63 65.5,353.57 66.28,354.48 67.05,355.36 67.83,356.22 68.6,357.04 69.38,357.84 70.16,358.61 70.93,359.36 71.71,360.08 72.48,360.78 73.26,361.45 74.04,362.1 74.81,362.73 75.59,363.34 76.36,363.93 77.14,364.5 77.92,365.05 78.69,365.58 79.47,366.09 80.24,366.59 81.02,367.06 81.8,367.52 82.57,367.97 83.35,368.4 84.12,368.81 84.9,369.21 85.68,369.59 86.45,369.96 87.23,370.32 88,370.67 88.78,371 89.56,371.32 90.33,371.63 91.11,371.92 91.88,372.21 92.66,372.49 93.44,372.75 94.21,373.01 94.99,373.26 95.76,373.49 96.54,373.72 97.32,373.94 98.09,374.16 98.87,374.36 99.64,374.56 100.42,374.75 101.2,374.93 101.97,375.1 102.75,375.27 103.52,375.43 104.3,375.59 105.08,375.74 105.85,375.88 106.63,376.02 107.4,376.16 108.18,376.29 108.96,376.41 109.73,376.53 110.51,376.64 111.28,376.75 112.06,376.86 112.84,376.96 113.61,377.05 114.39,377.15 115.16,377.24 115.94,377.32 116.72,377.41 117.49,377.49 118.27,377.56 119.04,377.64 119.82,377.71 120.6,377.78 121.37,377.84 122.15,377.9 122.92,377.96 123.7,378.02 124.48,378.08 125.25,378.13 126.03,378.18 126.8,378.23 127.58,378.28 128.36,378.32 129.13,378.37 129.91,378.41 130.68,378.45 131.46,378.49 132.24,378.52 133.01,378.56 133.79,378.59 134.56,378.62 135.34,378.66 136.12,378.69 136.89,378.71 137.67,378.74 138.44,378.77 139.22,378.79 140,378.82 140.77,378.84 141.55,378.86 142.32,378.89 143.1,378.91 143.88,378.93 144.65,378.94 145.43,378.96 146.2,378.98 146.98,379 147.76,379.01 148.53,379.03 149.31,379.04 150.08,379.06 150.86,379.07 151.64,379.08 152.41,379.1 153.19,379.11 153.96,379.12 154.74,379.13 155.52,379.14 156.29,379.15 157.07,379.16 157.84,379.17 158.62,379.18 159.4,379.19 160.17,379.2 160.95,379.21 161.72,379.21 162.5,379.22 163.28,379.23 164.05,379.23 164.83,379.24 165.6,379.25 166.38,379.25 167.16,379.26 167.93,379.26 168.71,379.27 169.48,379.27 170.26,379.28 171.04,379.28 171.81,379.29 172.59,379.29 173.36,379.3 174.14,379.3 174.92,379.3 175.69,379.31 176.47,379.31 177.24,379.32 178.02,379.32 178.8,379.32 179.57,379.32 180.35,379.33 181.12,379.33 181.9,379.33 182.68,379.34 183.45,379.34 184.23,379.34 185,379.34 185.78,379.34 186.56,379.35 187.33,379.35 188.11,379.35 188.88,379.35 189.66,379.35 190.44,379.36 191.21,379.36 191.99,379.36 192.76,379.36 193.54,379.36 194.32,379.36 195.09,379.36 195.87,379.37 196.64,379.37 197.42,379.37 198.2,379.37 198.97,379.37 199.75,379.37 200.52,379.37 201.3,379.37 202.08,379.37 202.85,379.38 203.63,379.38 204.4,379.38 205.18,379.38 205.96,379.38 206.73,379.38 207.51,379.38 208.28,379.38 209.06,379.38 209.84,379.38 210.61,379.38 211.39,379.38 212.16,379.38 212.94,379.38 213.72,379.38 214.49,379.39 215.27,379.39 216.04,379.39 216.82,379.39 217.6,379.39 218.37,379.39 219.15,379.39 219.92,379.39 220.7,379.39 221.48,379.39 222.25,379.39 223.03,379.39 223.8,379.39 224.58,379.39 225.36,379.39 226.13,379.39 226.91,379.39 227.68,379.39 228.46,379.39 229.24,379.39 230.01,379.39 230.79,379.39 231.56,379.39 232.34,379.39 233.12,379.39 233.89,379.39 234.67,379.39 235.44,379.39 236.22,379.39 237,379.39 237.77,379.39 238.55,379.39 239.32,379.39 240.1,379.39 240.88,379.39 241.65,379.39 242.43,379.39 243.2,379.4 243.98,379.4 244.76,379.4 245.53,379.4 246.31,379.4 247.08,379.4 247.86,379.4 248.64,379.4 249.41,379.4 250.19,379.4 250.96,379.4 251.74,379.4 252.52,379.4 253.29,379.4 254.07,379.4 254.84,379.4 255.62,379.4 256.4,379.4 257.17,379.4 257.95,379.4 258.72,379.4 259.5,379.4" stroke="#1010ff" stroke-width="1.6"/>
<polyline points="26.7,250.51 27.48,254.07 28.25,257.55 29.03,260.96 29.8,264.3 30.58,267.56 31.36,270.75 32.13,273.87 32.91,276.92 33.68,279.9 34.46,282.81 35.24,285.65 36.01,288.42 36.79,291.13 37.56,293.77 38.34,296.35 39.12,298.87 39.89,301.32 40.67,303.71 41.44,306.03 42.22,308.3 43,310.51 43.77,312.66 44.55,314.76 45.32,316.8 46.1,318.78 46.88,320.72 47.65,322.59 48.43,324.42 49.2,326.2 49.98,327.92 50.76,329.6 51.53,331.23 52.31,332.82 53.08,334.36 53.86,335.85 54.64,337.3 55.41,338.71 56.19,340.08 56.96,341.4 57.74,342.69 58.52,343.94 59.29,345.15 60.07,346.32 60.84,347.46 61.62,348.56 62.4,349.63 63.17,350.66 63.95,351.66 64.72,352.63 65.5,353.57 66.28,354.48 67.05,355.36 67.83,356.22 68.6,357.04 69.38,357.84 70.16,358.61 70.93,359.36 71.71,360.08 72.48,360.78 73.26,361.45 74.04,362.1 74.81,362.73 75.59,363.34 76.36,363.93 77.14,364.5 77.92,365.05 78.69,365.58 79.47,366.09 80.24,366.59 81.02,367.06 81.8,367.52 82.57,367.97 83.35,368.4 84.12,368.81 84.9,369.21 85.68,369.59 86.45,369.96 87.23,370.32 88,370.67 88.78,371 89.56,371.32 90.33,371.63 91.11,371.92 91.88,372.21 92.66,372.49 93.44,372.75 94.21,373.01 94.99,373.26 95.76,373.49 96.54,373.72 97.32,374.09 98.09,374.43 98.87,374.75 99.64,375.05 100.42,375.33 101.2,375.59 101.97,375.84 102.75,376.07 103.52,376.28 104.3,376.48 105.08,376.67 105.85,376.85 106.63,377.01 107.4,377.17 108.18,377.31 108.96,377.45 109.73,377.57 110.51,377.69 111.28,377.8 112.06,377.91 112.84,378 113.61,378.1 114.39,378.18 115.16,378.26 115.94,378.33 116.72,378.4 117.49,378.47 118.27,378.53 119.04,378.59 119.82,378.64 120.6,378.69 121.37,378.74 122.15,378.78 122.92,378.82 123.7,378.86 124.48,378.89 125.25,378.93 126.03,378.96 126.8,378.99 127.58,379.01 128.36,379.04 129.13,379.06 129.91,379.08 130.68,379.11 131.46,379.12 132.24,379.14 133.01,379.16 133.79,379.18 134.56,379.19 135.34,379.2 136.12,379.22 136.89,379.23 137.67,379.24 138.44,379.25 139.22,379.26 140,379.27 140.77,379.28 141.55,379.29 142.32,379.29 143.1,379.3 143.88,379.31 144.65,379.31 145.43,379.32 146.2,379.32 146.98,379.33 147.76,379.33 148.53,379.34 149.31,379.34 150.08,379.35 150.86,379.35 151.64,379.35 152.41,379.36 153.19,379.36 153.96,379.36 154.74,379.36 155.52,379.37 156.29,379.37 157.07,379.37 157.84,379.37 158.62,379.37 159.4,379.38 160.17,379.38 160.95,379.38 161.72,379.38 162.5,379.38 163.28,379.38 164.05,379.38 164.83,379.38 165.6,379.39 166.38,379.39 167.16,379.39 167.93,379.39 168.71,379.39 169.48,379.39 170.26,379.39 171.04,379.39 171.81,379.39 172.59,379.39 173.36,379.39 174.14,379.39 174.92,379.39 175.69,379.39 176.47,379.39 177.24,379.39 178.02,379.4 178.8,379.4 179.57,379.4 180.35,379.4 181.12,379.4 181.9,379.4 182.68,379.4 183.45,379.4 184.23,379.4 185,379.4 185.78,379.4 186.56,379.4 187.33,379.4 188.11,379.4 188.88,379.4 189.66,379.4 190.44,379.4 191.21,379.4 191.99,379.4 192.76,379.4 193.54,379.4 194.32,379.4 195.09,379.4 195.87,379.4 196.64,379.4 197.42,379.4 198.2,379.4 198.97,379.4 199.75,379.4 200.52,379.4 201.3,379.4 202.08,379.4 202.85,379.4 203.63,379.4 204.4,379.4 205.18,379.4 205.96,379.4 206.73,379.4 207.51,379.4 208.28,379.4 209.06,379.4 209.84,379.4 210.61,379.4 211.39,379.4 212.16,379.4 212.94,379.4 213.72,379.4 214.49,379.4 215.27,379.4 216.04,379.4 216.82,379.4 217.6,379.4 218.37,379.4 219.15,379.4 219.92,379.4 220.7,379.4 221.48,379.4 222.25,379.4 223.03,379.4 223.8,379.4 224.58,379.4 225.36,379.4 226.13,379.4 226.91,379.4 227.68,379.4 228.46,379.4 229.24,379.4 230.01,379.4 230.79,379.4 231.56,379.4 232.34,379.4 233.12,379.4 233.89,379.4 234.67,379.4 235.44,379.4 236.22,379.4 237,379.4 237.77,379.4 238.55,379.4 239.32,379.4 240.1,379.4 240.88,379.4 241.65,379.4 242.43,379.4 243.2,379.4 243.98,379.4 244.76,379.4 245.53,379.4 246.31,379.4 247.08,379.4 247.86,379.4 248.64,379.4 249.41,379.4 250.19,379.4 250.96,379.4 251.74,379.4 252.52,379.4 253.29,379.4 254.07,379.4 254.84,379.4 255.62,379.4 256.4,379.4 257.17,379.4 257.95,379.4 258.72,379.4 259.5,379.4" stroke="#ff1010" stroke-width="1.5" stroke-dasharray="5 4"/>
<polyline points="26.7,239.62 27.48,244.22 28.25,248.67 29.03,252.97 29.8,257.14 30.58,261.16 31.36,265.06 32.13,268.83 32.91,272.47 33.68,276 34.46,279.41 35.24,282.71 36.01,285.9 36.79,288.99 37.56,291.97 38.34,294.86 39.12,297.66 39.89,300.36 40.67,302.97 41.44,305.5 42.22,307.95 43,310.32 43.77,312.61 44.55,314.82 45.32,316.97 46.1,319.04 46.88,321.04 47.65,322.98 48.43,324.86 49.2,326.67 49.98,328.43 50.76,330.13 51.53,331.77 52.31,333.36 53.08,334.9 53.86,336.39 54.64,337.82 55.41,339.22 56.19,340.56 56.96,341.86 57.74,343.12 58.52,344.34 59.29,345.52 60.07,346.66 60.84,347.76 61.62,348.83 62.4,349.86 63.17,350.86 63.95,351.83 64.72,352.76 65.5,353.67 66.28,354.54 67.05,355.39 67.83,356.2 68.6,357 69.38,357.76 70.16,358.5 70.93,359.22 71.71,359.91 72.48,360.58 73.26,361.23 74.04,361.86 74.81,362.46 75.59,363.05 76.36,363.62 77.14,364.17 77.92,364.7 78.69,365.21 79.47,365.71 80.24,366.19 81.02,366.66 81.8,367.11 82.57,367.54 83.35,367.96 84.12,368.37 84.9,368.76 85.68,369.15 86.45,369.51 87.23,369.87 88,370.22 88.78,370.55 89.56,370.87 90.33,371.19 91.11,371.49 91.88,371.78 92.66,372.06 93.44,372.34 94.21,372.6 94.99,372.86 95.76,373.1 96.54,373.34 97.32,373.58 98.09,373.8 98.87,374.02 99.64,374.23 100.42,374.43 101.2,374.62 101.97,374.81 102.75,375 103.52,375.18 104.3,375.35 105.08,375.51 105.85,375.67 106.63,375.83 107.4,375.98 108.18,376.13 108.96,376.27 109.73,376.4 110.51,376.54 111.28,376.66 112.06,376.79 112.84,376.91 113.61,377.02 114.39,377.13 115.16,377.24 115.94,377.34 116.72,377.45 117.49,377.54 118.27,377.64 119.04,377.73 119.82,377.82 120.6,377.9 121.37,377.99 122.15,378.07 122.92,378.14 123.7,378.22 124.48,378.29 125.25,378.36 126.03,378.43 126.8,378.49 127.58,378.56 128.36,378.62 129.13,378.68 129.91,378.74 130.68,378.79 131.46,378.85 132.24,378.9 133.01,378.95 133.79,379 134.56,379.04 135.34,379.09 136.12,379.13 136.89,379.18 137.67,379.22 138.44,379.26 139.22,379.3 140,379.33 140.77,379.37 141.55,379.4 142.32,379.4 143.1,379.4 143.88,379.4 144.65,379.4 145.43,379.4 146.2,379.4 146.98,379.4 147.76,379.4 148.53,379.4 149.31,379.4 150.08,379.4 150.86,379.4 151.64,379.4 152.41,379.4 153.19,379.4 153.96,379.4 154.74,379.4 155.52,379.4 156.29,379.4 157.07,379.4 157.84,379.4 158.62,379.4 159.4,379.4 160.17,379.4 160.95,379.4 161.72,379.4 162.5,379.4 163.28,379.4 164.05,379.4 164.83,379.4 165.6,379.4 166.38,379.4 167.16,379.4 167.93,379.4 168.71,379.4 169.48,379.4 170.26,379.4 171.04,379.4 171.81,379.4 172.59,379.4 173.36,379.4 174.14,379.4 174.92,379.4 175.69,379.4 176.47,379.4 177.24,379.4 178.02,379.4 178.8,379.4 179.57,379.4 180.35,379.4 181.12,379.4 181.9,379.4 182.68,379.4 183.45,379.4 184.23,379.4 185,379.4 185.78,379.4 186.56,379.4 187.33,379.4 188.11,379.4 188.88,379.4 189.66,379.4 190.44,379.4 191.21,379.4 191.99,379.4 192.76,379.4 193.54,379.4 194.32,379.4 195.09,379.4 195.87,379.4 196.64,379.4 197.42,379.4 198.2,379.4 198.97,379.4 199.75,379.4 200.52,379.4 201.3,379.4 202.08,379.4 202.85,379.4 203.63,379.4 204.4,379.4 205.18,379.4 205.96,379.4 206.73,379.4 207.51,379.4 208.28,379.4 209.06,379.4 209.84,379.4 210.61,379.4 211.39,379.4 212.16,379.4 212.94,379.4 213.72,379.4 214.49,379.4 215.27,379.4 216.04,379.4 216.82,379.4 217.6,379.4 218.37,379.4 219.15,379.4 219.92,379.4 220.7,379.4 221.48,379.4 222.25,379.4 223.03,379.4 223.8,379.4 224.58,379.4 225.36,379.4 226.13,379.4 226.91,379.4 227.68,379.4 228.46,379.4 229.24,379.4 230.01,379.4 230.79,379.4 231.56,379.4 232.34,379.4 233.12,379.4 233.89,379.4 234.67,379.4 235.44,379.4 236.22,379.4 237,379.4 237.77,379.4 238.55,379.4 239.32,379.4 240.1,379.4 240.88,379.4 241.65,379.4 242.43,379.4 243.2,379.4 243.98,379.4 244.76,379.4 245.53,379.4 246.31,379.4 247.08,379.4 247.86,379.4 248.64,379.4 249.41,379.4 250.19,379.4 250.96,379.4 251.74,379.4 252.52,379.4 253.29,379.4 254.07,379.4 254.84,379.4 255.62,379.4 256.4,379.4 257.17,379.4 257.95,379.4 258.72,379.4 259.5,379.4" stroke="#0a8a0a" stroke-width="1.5" stroke-dasharray="1.4 2.8"/>
<polyline points="26.7,250.5 27.48,254.04 28.25,257.51 29.03,260.9 29.8,264.22 30.58,267.47 31.36,270.64 32.13,273.75 32.91,276.78 33.68,279.75 34.46,282.64 35.24,285.47 36.01,288.23 36.79,290.92 37.56,293.55 38.34,296.12 39.12,298.62 39.89,301.06 40.67,303.43 41.44,305.75 42.22,308.01 43,310.21 43.77,312.35 44.55,314.43 45.32,316.46 46.1,318.44 46.88,320.36 47.65,322.23 48.43,324.05 49.2,325.81 49.98,327.53 50.76,329.2 51.53,330.82 52.31,332.4 53.08,333.93 53.86,335.42 54.64,336.86 55.41,338.26 56.19,339.62 56.96,340.94 57.74,342.22 58.52,343.46 59.29,344.67 60.07,345.83 60.84,346.97 61.62,348.06 62.4,349.13 63.17,350.15 63.95,351.15 64.72,352.12 65.5,353.05 66.28,353.96 67.05,354.83 67.83,355.68 68.6,356.5 69.38,357.3 70.16,358.07 70.93,358.81 71.71,359.53 72.48,360.22 73.26,360.89 74.04,361.54 74.81,362.17 75.59,362.77 76.36,363.36 77.14,363.93 77.92,364.47 78.69,365 79.47,365.51 80.24,366 81.02,366.47 81.8,366.93 82.57,367.37 83.35,367.8 84.12,368.21 84.9,368.61 85.68,368.99 86.45,369.36 87.23,369.72 88,370.06 88.78,370.39 89.56,370.71 90.33,371.02 91.11,371.31 91.88,371.6 92.66,371.87 93.44,372.14 94.21,372.39 94.99,372.64 95.76,372.87 96.54,373.1 97.32,373.32 98.09,373.53 98.87,373.74 99.64,373.93 100.42,374.12 101.2,374.3 101.97,374.47 102.75,374.64 103.52,374.8 104.3,374.96 105.08,375.11 105.85,375.25 106.63,375.39 107.4,375.52 108.18,375.65 108.96,375.77 109.73,375.89 110.51,376 111.28,376.11 112.06,376.22 112.84,376.32 113.61,376.42 114.39,376.51 115.16,376.6 115.94,376.68 116.72,376.77 117.49,376.85 118.27,376.92 119.04,377 119.82,377.07 120.6,377.13 121.37,377.2 122.15,377.26 122.92,377.32 123.7,377.38 124.48,377.43 125.25,377.49 126.03,377.54 126.8,377.59 127.58,377.63 128.36,377.68 129.13,377.72 129.91,377.76 130.68,377.8 131.46,377.84 132.24,377.88 133.01,377.91 133.79,377.95 134.56,377.98 135.34,378.01 136.12,378.04 136.89,378.07 137.67,378.09 138.44,378.12 139.22,378.15 140,378.17 140.77,378.19 141.55,378.22 142.32,378.24 143.1,378.26 143.88,378.28 144.65,378.3 145.43,378.32 146.2,378.33 146.98,378.35 147.76,378.37 148.53,378.38 149.31,378.4 150.08,378.41 150.86,378.42 151.64,378.44 152.41,378.45 153.19,378.46 153.96,378.47 154.74,378.48 155.52,378.49 156.29,378.5 157.07,378.51 157.84,378.52 158.62,378.53 159.4,378.54 160.17,378.55 160.95,378.56 161.72,378.56 162.5,378.57 163.28,378.58 164.05,378.59 164.83,378.59 165.6,378.6 166.38,378.6 167.16,378.61 167.93,378.62 168.71,378.62 169.48,378.63 170.26,378.63 171.04,378.63 171.81,378.64 172.59,378.64 173.36,378.65 174.14,378.65 174.92,378.66 175.69,378.66 176.47,378.66 177.24,378.67 178.02,378.67 178.8,378.67 179.57,378.67 180.35,378.68 181.12,378.68 181.9,378.68 182.68,378.69 183.45,378.69 184.23,378.69 185,378.69 185.78,378.69 186.56,378.7 187.33,378.7 188.11,378.7 188.88,378.7 189.66,378.7 190.44,378.71 191.21,378.71 191.99,378.71 192.76,378.71 193.54,378.71 194.32,378.71 195.09,378.71 195.87,378.72 196.64,378.72 197.42,378.72 198.2,378.72 198.97,378.72 199.75,378.72 200.52,378.72 201.3,378.72 202.08,378.72 202.85,378.73 203.63,378.73 204.4,378.73 205.18,378.73 205.96,378.73 206.73,378.73 207.51,378.73 208.28,378.73 209.06,378.73 209.84,378.73 210.61,378.73 211.39,378.73 212.16,378.73 212.94,378.73 213.72,378.73 214.49,378.74 215.27,378.74 216.04,378.74 216.82,378.74 217.6,378.74 218.37,378.74 219.15,378.74 219.92,378.74 220.7,378.74 221.48,378.74 222.25,378.74 223.03,378.74 223.8,378.74 224.58,378.74 225.36,378.74 226.13,378.74 226.91,378.74 227.68,378.74 228.46,378.74 229.24,378.74 230.01,378.74 230.79,378.74 231.56,378.74 232.34,378.74 233.12,378.74 233.89,378.74 234.67,378.74 235.44,378.74 236.22,378.74 237,378.74 237.77,378.74 238.55,378.74 239.32,378.74 240.1,378.74 240.88,378.74 241.65,378.74 242.43,378.74 243.2,378.75 243.98,378.75 244.76,378.75 245.53,378.75 246.31,378.75 247.08,378.75 247.86,378.75 248.64,378.75 249.41,378.75 250.19,378.75 250.96,378.75 251.74,378.75 252.52,378.75 253.29,378.75 254.07,378.75 254.84,378.75 255.62,378.75 256.4,378.75 257.17,378.75 257.95,378.75 258.72,378.75 259.5,378.75" stroke="#ff80ff" stroke-width="1.6"/>
</g>
<text x="24.4" y="382.4" text-anchor="end" class="tk">0.0</text>
<text x="24.4" y="356.4" text-anchor="end" class="tk">0.2</text>
<text x="24.4" y="330.4" text-anchor="end" class="tk">0.4</text>
<text x="24.4" y="304.4" text-anchor="end" class="tk">0.6</text>
<text x="24.4" y="278.4" text-anchor="end" class="tk">0.8</text>
<text x="24.4" y="252.4" text-anchor="end" class="tk">1.0</text>
<text x="24.4" y="226.4" text-anchor="end" class="tk">1.2</text>
<text x="26.7" y="389" text-anchor="middle" class="tk">0</text>
<text x="73.26" y="389" text-anchor="middle" class="tk">2</text>
<text x="119.82" y="389" text-anchor="middle" class="tk">4</text>
<text x="166.38" y="389" text-anchor="middle" class="tk">6</text>
<text x="212.94" y="389" text-anchor="middle" class="tk">8</text>
<text x="259.5" y="389" text-anchor="middle" class="tk">10</text>
<text transform="translate(9.5 302.8) rotate(-90)" text-anchor="middle" class="ti" y="2.3" textLength="47.8" lengthAdjust="spacingAndGlyphs">Moisture ratio (-)</text>
<text x="143.1" y="401.5" text-anchor="middle" class="ti" style="font-size:7.4px" textLength="43.6" lengthAdjust="spacingAndGlyphs">Drying time (h)</text>
<text x="248.9" y="233.4" text-anchor="middle" class="pl">(c)</text>
<line x1="4.8" y1="411.65" x2="17.8" y2="411.65" stroke="#1010ff" stroke-width="1.8"/>
<text x="20.1" y="414.5" class="lg" textLength="28.7" lengthAdjust="spacingAndGlyphs">Measured</text>
<line x1="51" y1="411.65" x2="56.38" y2="411.65" stroke="#ff1010" stroke-width="1.8"/>
<line x1="60.04" y1="411.65" x2="63.8" y2="411.65" stroke="#ff1010" stroke-width="1.8"/>
<text x="66.3" y="414.5" class="lg" textLength="33" lengthAdjust="spacingAndGlyphs">Page model</text>
<rect x="101.7" y="410.75" width="1.8" height="1.8" fill="#0a8a0a"/>
<rect x="106.8" y="410.75" width="1.8" height="1.8" fill="#0a8a0a"/>
<rect x="111.9" y="410.75" width="1.8" height="1.8" fill="#0a8a0a"/>
<text x="117" y="414.5" class="lg" textLength="53.8" lengthAdjust="spacingAndGlyphs">Logarithmic model</text>
<line x1="172.7" y1="411.65" x2="184.5" y2="411.65" stroke="#ff80ff" stroke-width="1.8"/>
<text x="187" y="414.5" class="lg" textLength="75.1" lengthAdjust="spacingAndGlyphs">Weibull distribution model</text>
<rect x="299.1" y="223.7" width="244.3" height="155.9" fill="none" stroke="#dcdcdc" stroke-width="1"/>
<path d="M323.53 379.6v-1.6M323.53 223.7v1.6M347.96 379.6v-1.6M347.96 223.7v1.6M372.39 379.6v-1.6M372.39 223.7v1.6M396.82 379.6v-1.6M396.82 223.7v1.6M421.25 379.6v-1.6M421.25 223.7v1.6M445.68 379.6v-1.6M445.68 223.7v1.6M470.11 379.6v-1.6M470.11 223.7v1.6M494.54 379.6v-1.6M494.54 223.7v1.6M518.97 379.6v-1.6M518.97 223.7v1.6M299.1 366.61h1.6M543.4 366.61h-1.6M299.1 353.62h1.6M543.4 353.62h-1.6M299.1 340.62h1.6M543.4 340.62h-1.6M299.1 327.63h1.6M543.4 327.63h-1.6M299.1 314.64h1.6M543.4 314.64h-1.6M299.1 301.65h1.6M543.4 301.65h-1.6M299.1 288.66h1.6M543.4 288.66h-1.6M299.1 275.67h1.6M543.4 275.67h-1.6M299.1 262.67h1.6M543.4 262.67h-1.6M299.1 249.68h1.6M543.4 249.68h-1.6M299.1 236.69h1.6M543.4 236.69h-1.6" stroke="#dcdcdc" stroke-width="0.8" fill="none"/>
<clipPath id="clipd"><rect x="299.1" y="215.7" width="244.3" height="165.4"/></clipPath>
<g clip-path="url(#clipd)" fill="none" stroke-linecap="butt" stroke-linejoin="round">
<polyline points="299.1,250.43 299.91,252.14 300.73,253.82 301.54,255.49 302.36,257.14 303.17,258.77 303.99,260.38 304.8,261.98 305.61,263.56 306.43,265.12 307.24,266.67 308.06,268.21 308.87,269.73 309.69,271.24 310.5,272.73 311.31,274.22 312.13,275.69 312.94,277.14 313.76,278.59 314.57,280.03 315.39,281.45 316.2,282.86 317.02,284.26 317.83,285.66 318.64,287.04 319.46,288.41 320.27,289.77 321.09,291.13 321.9,292.47 322.72,293.81 323.53,295.13 324.34,296.45 325.16,297.76 325.97,299.06 326.79,300.35 327.6,301.63 328.42,302.9 329.23,304.17 330.04,305.42 330.86,306.67 331.67,307.91 332.49,309.14 333.3,310.37 334.12,311.58 334.93,312.79 335.75,313.99 336.56,315.18 337.37,316.36 338.19,317.53 339,318.69 339.82,319.85 340.63,320.99 341.45,322.13 342.26,323.25 343.07,324.37 343.89,325.48 344.7,326.58 345.52,327.67 346.33,328.75 347.15,329.82 347.96,330.88 348.77,331.93 349.59,332.97 350.4,334 351.22,335.01 352.03,336.02 352.85,337.02 353.66,338.01 354.47,338.98 355.29,339.94 356.1,340.9 356.92,341.84 357.73,342.77 358.55,343.69 359.36,344.59 360.18,345.48 360.99,346.37 361.8,347.24 362.62,348.09 363.43,348.94 364.25,349.77 365.06,350.59 365.88,351.4 366.69,352.19 367.5,352.97 368.32,353.74 369.13,354.49 369.95,355.23 370.76,355.96 371.58,356.68 372.39,357.38 373.2,358.07 374.02,358.74 374.83,359.41 375.65,360.06 376.46,360.69 377.28,361.31 378.09,361.92 378.9,362.52 379.72,363.1 380.53,363.67 381.35,364.23 382.16,364.77 382.98,365.3 383.79,365.82 384.61,366.32 385.42,366.81 386.23,367.29 387.05,367.76 387.86,368.21 388.68,368.65 389.49,369.08 390.31,369.5 391.12,369.9 391.93,370.3 392.75,370.68 393.56,371.05 394.38,371.41 395.19,371.76 396.01,372.09 396.82,372.42 397.63,372.73 398.45,373.04 399.26,373.33 400.08,373.62 400.89,373.89 401.71,374.15 402.52,374.41 403.33,374.66 404.15,374.89 404.96,375.12 405.78,375.34 406.59,375.55 407.41,375.75 408.22,375.95 409.04,376.13 409.85,376.31 410.66,376.48 411.48,376.65 412.29,376.8 413.11,376.95 413.92,377.1 414.74,377.23 415.55,377.37 416.36,377.49 417.18,377.61 417.99,377.72 418.81,377.83 419.62,377.93 420.44,378.03 421.25,378.13 422.06,378.21 422.88,378.3 423.69,378.38 424.51,378.45 425.32,378.52 426.14,378.59 426.95,378.66 427.76,378.72 428.58,378.77 429.39,378.83 430.21,378.88 431.02,378.93 431.84,378.97 432.65,379.02 433.47,379.06 434.28,379.09 435.09,379.13 435.91,379.16 436.72,379.19 437.54,379.22 438.35,379.25 439.17,379.28 439.98,379.3 440.79,379.32 441.61,379.34 442.42,379.36 443.24,379.38 444.05,379.4 444.87,379.41 445.68,379.43 446.49,379.44 447.31,379.45 448.12,379.47 448.94,379.48 449.75,379.49 450.57,379.5 451.38,379.5 452.19,379.51 453.01,379.52 453.82,379.53 454.64,379.53 455.45,379.54 456.27,379.54 457.08,379.55 457.89,379.55 458.71,379.56 459.52,379.56 460.34,379.57 461.15,379.57 461.97,379.57 462.78,379.57 463.6,379.58 464.41,379.58 465.22,379.58 466.04,379.58 466.85,379.58 467.67,379.59 468.48,379.59 469.3,379.59 470.11,379.59 470.92,379.59 471.74,379.59 472.55,379.59 473.37,379.59 474.18,379.59 475,379.59 475.81,379.6 476.62,379.6 477.44,379.6 478.25,379.6 479.07,379.6 479.88,379.6 480.7,379.6 481.51,379.6 482.32,379.6 483.14,379.6 483.95,379.6 484.77,379.6 485.58,379.6 486.4,379.6 487.21,379.6 488.03,379.6 488.84,379.6 489.65,379.6 490.47,379.6 491.28,379.6 492.1,379.6 492.91,379.6 493.73,379.6 494.54,379.6 495.35,379.6 496.17,379.6 496.98,379.6 497.8,379.6 498.61,379.6 499.43,379.6 500.24,379.6 501.05,379.6 501.87,379.6 502.68,379.6 503.5,379.6 504.31,379.6 505.13,379.6 505.94,379.6 506.75,379.6 507.57,379.6 508.38,379.6 509.2,379.6 510.01,379.6 510.83,379.6 511.64,379.6 512.46,379.6 513.27,379.6 514.08,379.6 514.9,379.6 515.71,379.6 516.53,379.6 517.34,379.6 518.16,379.6 518.97,379.6 519.78,379.6 520.6,379.6 521.41,379.6 522.23,379.6 523.04,379.6 523.86,379.6 524.67,379.6 525.48,379.6 526.3,379.6 527.11,379.6 527.93,379.6 528.74,379.6 529.56,379.6 530.37,379.6 531.18,379.6 532,379.6 532.81,379.6 533.63,379.6 534.44,379.6 535.26,379.6 536.07,379.6 536.89,379.6 537.7,379.6 538.51,379.6 539.33,379.6 540.14,379.6 540.96,379.6 541.77,379.6 542.59,379.6 543.4,379.6" stroke="#1010ff" stroke-width="1.8"/>
<polyline points="299.1,248.66 299.91,249.87 300.73,251.11 301.54,252.4 302.36,253.71 303.17,255.05 303.99,256.42 304.8,257.82 305.61,259.24 306.43,260.67 307.24,262.13 308.06,263.61 308.87,265.09 309.69,266.6 310.5,268.11 311.31,269.63 312.13,271.16 312.94,272.69 313.76,274.23 314.57,275.78 315.39,277.32 316.2,278.86 317.02,280.41 317.83,281.95 318.64,283.49 319.46,285.02 320.27,286.55 321.09,288.07 321.9,289.58 322.72,291.09 323.53,292.59 324.34,294.08 325.16,295.55 325.97,297.02 326.79,298.48 327.6,299.92 328.42,301.35 329.23,302.77 330.04,304.17 330.86,305.56 331.67,306.94 332.49,308.3 333.3,309.65 334.12,310.98 334.93,312.3 335.75,313.6 336.56,314.89 337.37,316.16 338.19,317.42 339,318.66 339.82,319.89 340.63,321.09 341.45,322.29 342.26,323.47 343.07,324.63 343.89,325.77 344.7,326.9 345.52,328.02 346.33,329.12 347.15,330.2 347.96,331.27 348.77,332.32 349.59,333.36 350.4,334.38 351.22,335.39 352.03,336.38 352.85,337.36 353.66,338.32 354.47,339.27 355.29,340.21 356.1,341.13 356.92,342.03 357.73,342.93 358.55,343.81 359.36,344.67 360.18,345.52 360.99,346.36 361.8,347.19 362.62,348 363.43,348.8 364.25,349.58 365.06,350.36 365.88,351.12 366.69,351.86 367.5,352.6 368.32,353.32 369.13,354.04 369.95,354.74 370.76,355.42 371.58,356.1 372.39,356.76 373.2,357.42 374.02,358.06 374.83,358.69 375.65,359.31 376.46,359.91 377.28,360.51 378.09,361.09 378.9,361.67 379.72,362.23 380.53,362.78 381.35,363.33 382.16,363.86 382.98,364.38 383.79,364.89 384.61,365.39 385.42,365.88 386.23,366.35 387.05,366.82 387.86,367.28 388.68,367.73 389.49,368.16 390.31,368.59 391.12,369.01 391.93,369.42 392.75,369.81 393.56,370.2 394.38,370.58 395.19,370.94 396.01,371.3 396.82,371.65 397.63,371.99 398.45,372.32 399.26,372.64 400.08,372.95 400.89,373.25 401.71,373.54 402.52,373.83 403.33,374.1 404.15,374.36 404.96,374.62 405.78,374.87 406.59,375.11 407.41,375.34 408.22,375.56 409.04,375.77 409.85,375.98 410.66,376.18 411.48,376.37 412.29,376.55 413.11,376.73 413.92,376.89 414.74,377.05 415.55,377.21 416.36,377.35 417.18,377.49 417.99,377.63 418.81,377.75 419.62,377.87 420.44,377.99 421.25,378.1 422.06,378.2 422.88,378.3 423.69,378.39 424.51,378.48 425.32,378.56 426.14,378.64 426.95,378.71 427.76,378.78 428.58,378.84 429.39,378.9 430.21,378.96 431.02,379.01 431.84,379.06 432.65,379.11 433.47,379.15 434.28,379.19 435.09,379.22 435.91,379.26 436.72,379.29 437.54,379.32 438.35,379.35 439.17,379.37 439.98,379.39 440.79,379.41 441.61,379.43 442.42,379.45 443.24,379.46 444.05,379.48 444.87,379.49 445.68,379.5 446.49,379.51 447.31,379.52 448.12,379.53 448.94,379.54 449.75,379.55 450.57,379.55 451.38,379.56 452.19,379.56 453.01,379.57 453.82,379.57 454.64,379.58 455.45,379.58 456.27,379.58 457.08,379.58 457.89,379.59 458.71,379.59 459.52,379.59 460.34,379.59 461.15,379.59 461.97,379.59 462.78,379.59 463.6,379.6 464.41,379.6 465.22,379.6 466.04,379.6 466.85,379.6 467.67,379.6 468.48,379.6 469.3,379.6 470.11,379.6 470.92,379.6 471.74,379.6 472.55,379.6 473.37,379.6 474.18,379.6 475,379.6 475.81,379.6 476.62,379.6 477.44,379.6 478.25,379.6 479.07,379.6 479.88,379.6 480.7,379.6 481.51,379.6 482.32,379.6 483.14,379.6 483.95,379.6 484.77,379.6 485.58,379.6 486.4,379.6 487.21,379.6 488.03,379.6 488.84,379.6 489.65,379.6 490.47,379.6 491.28,379.6 492.1,379.6 492.91,379.6 493.73,379.6 494.54,379.6 495.35,379.6 496.17,379.6 496.98,379.6 497.8,379.6 498.61,379.6 499.43,379.6 500.24,379.6 501.05,379.6 501.87,379.6 502.68,379.6 503.5,379.6 504.31,379.6 505.13,379.6 505.94,379.6 506.75,379.6 507.57,379.6 508.38,379.6 509.2,379.6 510.01,379.6 510.83,379.6 511.64,379.6 512.46,379.6 513.27,379.6 514.08,379.6 514.9,379.6 515.71,379.6 516.53,379.6 517.34,379.6 518.16,379.6 518.97,379.6 519.78,379.6 520.6,379.6 521.41,379.6 522.23,379.6 523.04,379.6 523.86,379.6 524.67,379.6 525.48,379.6 526.3,379.6 527.11,379.6 527.93,379.6 528.74,379.6 529.56,379.6 530.37,379.6 531.18,379.6 532,379.6 532.81,379.6 533.63,379.6 534.44,379.6 535.26,379.6 536.07,379.6 536.89,379.6 537.7,379.6 538.51,379.6 539.33,379.6 540.14,379.6 540.96,379.6 541.77,379.6 542.59,379.6 543.4,379.6" stroke="#ff1010" stroke-width="1.7" stroke-dasharray="1.8 3.05"/>
<polyline points="299.1,237.58 299.91,240.23 300.73,242.83 301.54,245.38 302.36,247.89 303.17,250.35 303.99,252.77 304.8,255.14 305.61,257.47 306.43,259.76 307.24,262 308.06,264.2 308.87,266.37 309.69,268.49 310.5,270.58 311.31,272.63 312.13,274.64 312.94,276.61 313.76,278.55 314.57,280.45 315.39,282.32 316.2,284.15 317.02,285.95 317.83,287.72 318.64,289.46 319.46,291.16 320.27,292.83 321.09,294.47 321.9,296.09 322.72,297.67 323.53,299.22 324.34,300.75 325.16,302.25 325.97,303.72 326.79,305.16 327.6,306.58 328.42,307.97 329.23,309.34 330.04,310.68 330.86,312 331.67,313.29 332.49,314.56 333.3,315.81 334.12,317.03 334.93,318.23 335.75,319.41 336.56,320.57 337.37,321.7 338.19,322.82 339,323.92 339.82,324.99 340.63,326.05 341.45,327.09 342.26,328.1 343.07,329.1 343.89,330.08 344.7,331.05 345.52,331.99 346.33,332.92 347.15,333.83 347.96,334.73 348.77,335.61 349.59,336.47 350.4,337.32 351.22,338.15 352.03,338.97 352.85,339.77 353.66,340.56 354.47,341.33 355.29,342.09 356.1,342.83 356.92,343.56 357.73,344.28 358.55,344.99 359.36,345.68 360.18,346.36 360.99,347.02 361.8,347.68 362.62,348.32 363.43,348.95 364.25,349.57 365.06,350.18 365.88,350.78 366.69,351.36 367.5,351.94 368.32,352.51 369.13,353.06 369.95,353.61 370.76,354.14 371.58,354.67 372.39,355.18 373.2,355.69 374.02,356.18 374.83,356.67 375.65,357.15 376.46,357.62 377.28,358.08 378.09,358.54 378.9,358.98 379.72,359.42 380.53,359.85 381.35,360.27 382.16,360.68 382.98,361.09 383.79,361.49 384.61,361.88 385.42,362.26 386.23,362.64 387.05,363.01 387.86,363.37 388.68,363.73 389.49,364.08 390.31,364.43 391.12,364.76 391.93,365.09 392.75,365.42 393.56,365.74 394.38,366.05 395.19,366.36 396.01,366.66 396.82,366.96 397.63,367.25 398.45,367.54 399.26,367.82 400.08,368.1 400.89,368.37 401.71,368.63 402.52,368.89 403.33,369.15 404.15,369.4 404.96,369.65 405.78,369.89 406.59,370.13 407.41,370.36 408.22,370.59 409.04,370.82 409.85,371.04 410.66,371.26 411.48,371.47 412.29,371.68 413.11,371.89 413.92,372.09 414.74,372.29 415.55,372.48 416.36,372.67 417.18,372.86 417.99,373.04 418.81,373.22 419.62,373.4 420.44,373.58 421.25,373.75 422.06,373.91 422.88,374.08 423.69,374.24 424.51,374.4 425.32,374.56 426.14,374.71 426.95,374.86 427.76,375.01 428.58,375.15 429.39,375.29 430.21,375.43 431.02,375.57 431.84,375.71 432.65,375.84 433.47,375.97 434.28,376.1 435.09,376.22 435.91,376.34 436.72,376.46 437.54,376.58 438.35,376.7 439.17,376.81 439.98,376.93 440.79,377.04 441.61,377.14 442.42,377.25 443.24,377.35 444.05,377.46 444.87,377.56 445.68,377.65 446.49,377.75 447.31,377.85 448.12,377.94 448.94,378.03 449.75,378.12 450.57,378.21 451.38,378.3 452.19,378.38 453.01,378.46 453.82,378.55 454.64,378.63 455.45,378.71 456.27,378.78 457.08,378.86 457.89,378.93 458.71,379.01 459.52,379.08 460.34,379.15 461.15,379.22 461.97,379.29 462.78,379.36" stroke="#0a8a0a" stroke-width="2.0" stroke-dasharray="4.6 3.2"/>
<polyline points="299.1,253.74 299.91,254.81 300.73,255.9 301.54,257.03 302.36,258.18 303.17,259.36 303.99,260.56 304.8,261.79 305.61,263.04 306.43,264.32 307.24,265.61 308.06,266.92 308.87,268.26 309.69,269.6 310.5,270.97 311.31,272.35 312.13,273.74 312.94,275.14 313.76,276.56 314.57,277.98 315.39,279.41 316.2,280.85 317.02,282.3 317.83,283.75 318.64,285.21 319.46,286.66 320.27,288.12 321.09,289.59 321.9,291.05 322.72,292.51 323.53,293.97 324.34,295.43 325.16,296.88 325.97,298.33 326.79,299.77 327.6,301.21 328.42,302.64 329.23,304.06 330.04,305.48 330.86,306.88 331.67,308.28 332.49,309.66 333.3,311.04 334.12,312.4 334.93,313.76 335.75,315.09 336.56,316.42 337.37,317.74 338.19,319.03 339,320.32 339.82,321.59 340.63,322.85 341.45,324.09 342.26,325.31 343.07,326.52 343.89,327.71 344.7,328.89 345.52,330.05 346.33,331.2 347.15,332.32 347.96,333.43 348.77,334.52 349.59,335.6 350.4,336.66 351.22,337.7 352.03,338.72 352.85,339.72 353.66,340.71 354.47,341.68 355.29,342.63 356.1,343.57 356.92,344.48 357.73,345.38 358.55,346.27 359.36,347.13 360.18,347.98 360.99,348.81 361.8,349.63 362.62,350.42 363.43,351.2 364.25,351.97 365.06,352.71 365.88,353.45 366.69,354.16 367.5,354.86 368.32,355.54 369.13,356.21 369.95,356.86 370.76,357.5 371.58,358.12 372.39,358.73 373.2,359.33 374.02,359.9 374.83,360.47 375.65,361.02 376.46,361.56 377.28,362.08 378.09,362.59 378.9,363.09 379.72,363.58 380.53,364.05 381.35,364.51 382.16,364.96 382.98,365.4 383.79,365.82 384.61,366.24 385.42,366.64 386.23,367.03 387.05,367.41 387.86,367.78 388.68,368.14 389.49,368.49 390.31,368.83 391.12,369.17 391.93,369.49 392.75,369.8 393.56,370.1 394.38,370.4 395.19,370.69 396.01,370.96 396.82,371.24 397.63,371.5 398.45,371.75 399.26,372 400.08,372.24 400.89,372.47 401.71,372.7 402.52,372.92 403.33,373.13 404.15,373.34 404.96,373.54 405.78,373.73 406.59,373.92 407.41,374.1 408.22,374.28 409.04,374.45 409.85,374.61 410.66,374.77 411.48,374.93 412.29,375.08 413.11,375.23 413.92,375.37 414.74,375.5 415.55,375.64 416.36,375.77 417.18,375.89 417.99,376.01 418.81,376.13 419.62,376.24 420.44,376.35 421.25,376.45 422.06,376.56 422.88,376.66 423.69,376.75 424.51,376.84 425.32,376.93 426.14,377.02 426.95,377.1 427.76,377.19 428.58,377.26 429.39,377.34 430.21,377.41 431.02,377.48 431.84,377.55 432.65,377.62 433.47,377.68 434.28,377.75 435.09,377.81 435.91,377.86 436.72,377.92 437.54,377.97 438.35,378.03 439.17,378.08 439.98,378.13 440.79,378.17 441.61,378.22 442.42,378.26 443.24,378.31 444.05,378.35 444.87,378.39 445.68,378.43 446.49,378.46 447.31,378.5 448.12,378.53 448.94,378.57 449.75,378.6 450.57,378.63 451.38,378.66 452.19,378.69 453.01,378.72 453.82,378.75 454.64,378.77 455.45,378.8 456.27,378.82 457.08,378.85 457.89,378.87 458.71,378.89 459.52,378.92 460.34,378.94 461.15,378.96 461.97,378.98 462.78,379 463.6,379.01 464.41,379.03 465.22,379.05 466.04,379.07 466.85,379.08 467.67,379.1 468.48,379.11 469.3,379.13 470.11,379.14 470.92,379.15 471.74,379.17 472.55,379.18 473.37,379.19 474.18,379.2 475,379.21 475.81,379.23 476.62,379.24 477.44,379.25" stroke="#ff80ff" stroke-width="1.9"/>
</g>
<text x="296" y="382.4" text-anchor="end" class="tk" style="font-size:6.6px">0.0</text>
<text x="296" y="356.42" text-anchor="end" class="tk" style="font-size:6.6px">0.2</text>
<text x="296" y="330.43" text-anchor="end" class="tk" style="font-size:6.6px">0.4</text>
<text x="296" y="304.45" text-anchor="end" class="tk" style="font-size:6.6px">0.6</text>
<text x="296" y="278.47" text-anchor="end" class="tk" style="font-size:6.6px">0.8</text>
<text x="296" y="252.48" text-anchor="end" class="tk" style="font-size:6.6px">1.0</text>
<text x="296" y="226.5" text-anchor="end" class="tk" style="font-size:6.6px">1.2</text>
<text x="299.1" y="389.7" text-anchor="middle" class="tk">0</text>
<text x="347.96" y="389.7" text-anchor="middle" class="tk">2</text>
<text x="396.82" y="389.7" text-anchor="middle" class="tk">4</text>
<text x="445.68" y="389.7" text-anchor="middle" class="tk">6</text>
<text x="494.54" y="389.7" text-anchor="middle" class="tk">8</text>
<text x="543.4" y="389.7" text-anchor="middle" class="tk">10</text>
<text transform="translate(279.4 303.05) rotate(-90)" text-anchor="middle" class="ti" y="2.3" textLength="46.6" lengthAdjust="spacingAndGlyphs">Moisture ratio (-)</text>
<text x="421.75" y="401.8" text-anchor="middle" class="ti" style="font-size:7px" textLength="38.5" lengthAdjust="spacingAndGlyphs">Drying time (h)</text>
<text x="530.9" y="233.4" text-anchor="middle" class="pl">(d)</text>
<line x1="287.8" y1="411.5" x2="297.6" y2="411.5" stroke="#1010ff" stroke-width="1.5"/>
<text x="299.5" y="414.5" class="lg" textLength="29" lengthAdjust="spacingAndGlyphs">Measured</text>
<rect x="330.8" y="410.6" width="1.8" height="1.8" fill="#ff1010"/>
<rect x="334.55" y="410.6" width="1.8" height="1.8" fill="#ff1010"/>
<rect x="338.3" y="410.6" width="1.8" height="1.8" fill="#ff1010"/>
<text x="342.7" y="414.5" class="lg" textLength="33.7" lengthAdjust="spacingAndGlyphs">Page model</text>
<line x1="378.7" y1="411.5" x2="381.43" y2="411.5" stroke="#0a8a0a" stroke-width="1.5"/>
<line x1="385.07" y1="411.5" x2="387.8" y2="411.5" stroke="#0a8a0a" stroke-width="1.5"/>
<text x="390.3" y="414.5" class="lg" textLength="54.8" lengthAdjust="spacingAndGlyphs">Logarithmic model</text>
<line x1="446.4" y1="411.5" x2="455.5" y2="411.5" stroke="#ff80ff" stroke-width="1.5"/>
<text x="457.2" y="414.5" class="lg" textLength="77.7" lengthAdjust="spacingAndGlyphs">Weibull distribution model</text>
</svg>
</body></html>
